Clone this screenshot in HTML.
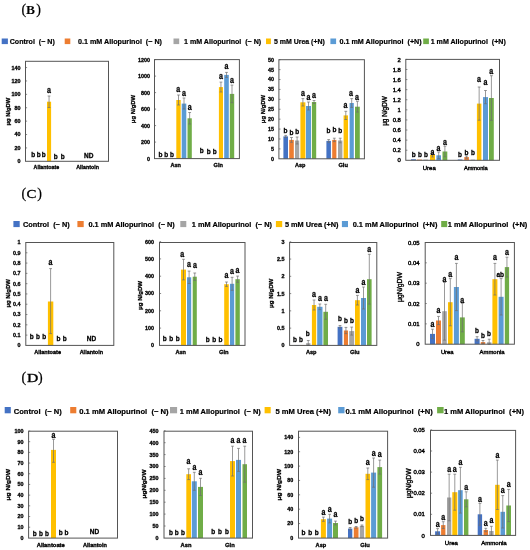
<!DOCTYPE html><html><head><meta charset="utf-8"><style>html,body{margin:0;padding:0;background:#fff;overflow:hidden}svg{display:block;filter:blur(0.3px)}</style></head><body>
<svg width="530" height="550" viewBox="0 0 530 550">
<rect width="530" height="550" fill="#fff"/>
<text x="21.40" y="13.80" font-size="14" stroke="#000" stroke-width="0.2" font-family="Liberation Serif">(</text>
<text x="26.00" y="13.80" font-size="12" font-weight="bold" textLength="9.00" lengthAdjust="spacingAndGlyphs" stroke="#000" stroke-width="0" font-family="Liberation Serif">B</text>
<text x="36.20" y="13.80" font-size="14" stroke="#000" stroke-width="0.2" font-family="Liberation Serif">)</text>
<text x="21.40" y="197.60" font-size="14" stroke="#000" stroke-width="0.2" font-family="Liberation Serif">(</text>
<text x="26.50" y="197.60" font-size="13" font-weight="normal" textLength="9.90" lengthAdjust="spacingAndGlyphs" stroke="#000" stroke-width="0.3" font-family="Liberation Serif">C</text>
<text x="37.20" y="197.60" font-size="14" stroke="#000" stroke-width="0.2" font-family="Liberation Serif">)</text>
<text x="21.40" y="382.40" font-size="14" stroke="#000" stroke-width="0.2" font-family="Liberation Serif">(</text>
<text x="27.00" y="382.40" font-size="12.5" font-weight="normal" textLength="11.30" lengthAdjust="spacingAndGlyphs" stroke="#000" stroke-width="0.35" font-family="Liberation Serif">D</text>
<text x="38.10" y="382.40" font-size="14" stroke="#000" stroke-width="0.2" font-family="Liberation Serif">)</text>
<rect x="1.70" y="38.50" width="6.20" height="5.60" fill="#4472C4"/>
<rect x="64.70" y="38.50" width="5.60" height="5.60" fill="#ED7D31"/>
<rect x="173.50" y="38.50" width="5.70" height="5.60" fill="#A5A5A5"/>
<rect x="266.00" y="38.50" width="4.90" height="5.60" fill="#FFC000"/>
<rect x="330.40" y="38.50" width="5.70" height="5.60" fill="#5B9BD5"/>
<rect x="423.20" y="38.50" width="5.70" height="5.60" fill="#70AD47"/>
<text x="9.70" y="44.40" font-size="7.3" font-weight="bold" font-family="Liberation Sans" stroke="#000" stroke-width="0.2" textLength="45.10" lengthAdjust="spacingAndGlyphs">Control&#160;&#160;(− N)</text>
<text x="78.00" y="44.40" font-size="7.3" font-weight="bold" font-family="Liberation Sans" stroke="#000" stroke-width="0.2" textLength="84.00" lengthAdjust="spacingAndGlyphs">0.1 mM Allopurinol&#160;&#160;(− N)</text>
<text x="184.00" y="44.40" font-size="7.3" font-weight="bold" font-family="Liberation Sans" stroke="#000" stroke-width="0.2" textLength="77.20" lengthAdjust="spacingAndGlyphs">1 mM Allopurinol&#160;&#160;(− N)</text>
<text x="273.90" y="44.40" font-size="7.3" font-weight="bold" font-family="Liberation Sans" stroke="#000" stroke-width="0.2" textLength="51.00" lengthAdjust="spacingAndGlyphs">5 mM Urea (+N)</text>
<text x="339.40" y="44.40" font-size="7.3" font-weight="bold" font-family="Liberation Sans" stroke="#000" stroke-width="0.2" textLength="82.30" lengthAdjust="spacingAndGlyphs">0.1 mM Allopurinol&#160;&#160;(+N)</text>
<text x="430.70" y="44.40" font-size="7.3" font-weight="bold" font-family="Liberation Sans" stroke="#000" stroke-width="0.2" textLength="75.10" lengthAdjust="spacingAndGlyphs">1 mM Allopurinol&#160;&#160;(+N)</text>
<rect x="13.40" y="221.00" width="6.30" height="6.10" fill="#4472C4"/>
<rect x="77.40" y="221.00" width="6.30" height="6.10" fill="#ED7D31"/>
<rect x="180.30" y="221.00" width="6.00" height="6.10" fill="#A5A5A5"/>
<rect x="275.90" y="221.00" width="6.30" height="6.10" fill="#FFC000"/>
<rect x="341.90" y="221.00" width="6.10" height="6.10" fill="#5B9BD5"/>
<rect x="441.20" y="221.00" width="6.00" height="6.10" fill="#70AD47"/>
<text x="22.90" y="227.40" font-size="7.3" font-weight="bold" font-family="Liberation Sans" stroke="#000" stroke-width="0.2" textLength="46.80" lengthAdjust="spacingAndGlyphs">Control&#160;&#160;(− N)</text>
<text x="88.40" y="227.40" font-size="7.3" font-weight="bold" font-family="Liberation Sans" stroke="#000" stroke-width="0.2" textLength="86.40" lengthAdjust="spacingAndGlyphs">0.1 mM Allopurinol&#160;&#160;(− N)</text>
<text x="191.80" y="227.40" font-size="7.3" font-weight="bold" font-family="Liberation Sans" stroke="#000" stroke-width="0.2" textLength="80.20" lengthAdjust="spacingAndGlyphs">1 mM Allopurinol&#160;&#160;(− N)</text>
<text x="284.90" y="227.40" font-size="7.3" font-weight="bold" font-family="Liberation Sans" stroke="#000" stroke-width="0.2" textLength="53.60" lengthAdjust="spacingAndGlyphs">5 mM Urea (+N)</text>
<text x="352.70" y="227.40" font-size="7.3" font-weight="bold" font-family="Liberation Sans" stroke="#000" stroke-width="0.2" textLength="84.70" lengthAdjust="spacingAndGlyphs">0.1 mM Allopurinol&#160;&#160;(+N)</text>
<text x="447.80" y="227.40" font-size="7.3" font-weight="bold" font-family="Liberation Sans" stroke="#000" stroke-width="0.2" textLength="79.50" lengthAdjust="spacingAndGlyphs">1 mM Allopurinol&#160;&#160;(+N)</text>
<rect x="4.70" y="407.00" width="6.10" height="6.30" fill="#4472C4"/>
<rect x="70.20" y="407.00" width="6.10" height="6.30" fill="#ED7D31"/>
<rect x="170.00" y="407.00" width="7.10" height="6.30" fill="#A5A5A5"/>
<rect x="264.60" y="407.00" width="6.10" height="6.30" fill="#FFC000"/>
<rect x="338.20" y="407.00" width="6.30" height="6.30" fill="#5B9BD5"/>
<rect x="437.10" y="407.00" width="6.50" height="6.30" fill="#70AD47"/>
<text x="13.70" y="413.60" font-size="7.3" font-weight="bold" font-family="Liberation Sans" stroke="#000" stroke-width="0.2" textLength="48.10" lengthAdjust="spacingAndGlyphs">Control&#160;&#160;(− N)</text>
<text x="79.20" y="413.60" font-size="7.3" font-weight="bold" font-family="Liberation Sans" stroke="#000" stroke-width="0.2" textLength="89.40" lengthAdjust="spacingAndGlyphs">0.1 mM Allopurinol&#160;&#160;(− N)</text>
<text x="179.80" y="413.60" font-size="7.3" font-weight="bold" font-family="Liberation Sans" stroke="#000" stroke-width="0.2" textLength="81.00" lengthAdjust="spacingAndGlyphs">1 mM Allopurinol&#160;&#160;(− N)</text>
<text x="275.40" y="413.60" font-size="7.3" font-weight="bold" font-family="Liberation Sans" stroke="#000" stroke-width="0.2" textLength="55.60" lengthAdjust="spacingAndGlyphs">5 mM Urea (+N)</text>
<text x="345.50" y="413.60" font-size="7.3" font-weight="bold" font-family="Liberation Sans" stroke="#000" stroke-width="0.2" textLength="87.40" lengthAdjust="spacingAndGlyphs">0.1 mM Allopurinol&#160;&#160;(+N)</text>
<text x="444.00" y="413.60" font-size="7.3" font-weight="bold" font-family="Liberation Sans" stroke="#000" stroke-width="0.2" textLength="80.00" lengthAdjust="spacingAndGlyphs">1 mM Allopurinol&#160;&#160;(+N)</text>
<text x="20.50" y="163.24" font-size="5.4" text-anchor="end" font-weight="bold" font-family="Liberation Sans" stroke="#000" stroke-width="0.3">0</text>
<line x1="25.50" y1="147.91" x2="27.10" y2="147.91" stroke="#595959" stroke-width="0.7"/>
<text x="20.50" y="149.85" font-size="5.4" text-anchor="end" font-weight="bold" font-family="Liberation Sans" stroke="#000" stroke-width="0.3">20</text>
<line x1="25.50" y1="134.52" x2="27.10" y2="134.52" stroke="#595959" stroke-width="0.7"/>
<text x="20.50" y="136.46" font-size="5.4" text-anchor="end" font-weight="bold" font-family="Liberation Sans" stroke="#000" stroke-width="0.3">40</text>
<line x1="25.50" y1="121.13" x2="27.10" y2="121.13" stroke="#595959" stroke-width="0.7"/>
<text x="20.50" y="123.07" font-size="5.4" text-anchor="end" font-weight="bold" font-family="Liberation Sans" stroke="#000" stroke-width="0.3">60</text>
<line x1="25.50" y1="107.74" x2="27.10" y2="107.74" stroke="#595959" stroke-width="0.7"/>
<text x="20.50" y="109.68" font-size="5.4" text-anchor="end" font-weight="bold" font-family="Liberation Sans" stroke="#000" stroke-width="0.3">80</text>
<line x1="25.50" y1="94.35" x2="27.10" y2="94.35" stroke="#595959" stroke-width="0.7"/>
<text x="20.50" y="96.29" font-size="5.4" text-anchor="end" font-weight="bold" font-family="Liberation Sans" stroke="#000" stroke-width="0.3">100</text>
<line x1="25.50" y1="80.96" x2="27.10" y2="80.96" stroke="#595959" stroke-width="0.7"/>
<text x="20.50" y="82.90" font-size="5.4" text-anchor="end" font-weight="bold" font-family="Liberation Sans" stroke="#000" stroke-width="0.3">120</text>
<line x1="25.50" y1="67.57" x2="27.10" y2="67.57" stroke="#595959" stroke-width="0.7"/>
<text x="20.50" y="69.51" font-size="5.4" text-anchor="end" font-weight="bold" font-family="Liberation Sans" stroke="#000" stroke-width="0.3">140</text>
<rect x="47.00" y="101.70" width="4.10" height="59.60" fill="#FFC000"/>
<line x1="49.05" y1="96.00" x2="49.05" y2="107.50" stroke="#6E6E6E" stroke-width="0.7"/>
<line x1="47.65" y1="96.00" x2="50.45" y2="96.00" stroke="#6E6E6E" stroke-width="0.7"/>
<line x1="47.65" y1="107.50" x2="50.45" y2="107.50" stroke="#6E6E6E" stroke-width="0.7"/>
<rect x="25.50" y="61.30" width="83.00" height="100.00" fill="none" stroke="#555" stroke-width="1"/>
<text x="0" y="0" font-size="6.8" text-anchor="middle" font-weight="bold" font-family="Liberation Sans" stroke="#000" stroke-width="0.3" transform="translate(33.20,156.80) scale(0.95,1)">b</text>
<text x="0" y="0" font-size="6.8" text-anchor="middle" font-weight="bold" font-family="Liberation Sans" stroke="#000" stroke-width="0.3" transform="translate(38.60,156.80) scale(0.95,1)">b</text>
<text x="0" y="0" font-size="6.8" text-anchor="middle" font-weight="bold" font-family="Liberation Sans" stroke="#000" stroke-width="0.3" transform="translate(43.80,156.80) scale(0.95,1)">b</text>
<text x="0" y="0" font-size="6.8" text-anchor="middle" font-weight="bold" font-family="Liberation Sans" stroke="#000" stroke-width="0.3" transform="translate(55.70,158.50) scale(0.95,1)">b</text>
<text x="0" y="0" font-size="6.8" text-anchor="middle" font-weight="bold" font-family="Liberation Sans" stroke="#000" stroke-width="0.3" transform="translate(62.80,158.50) scale(0.95,1)">b</text>
<text x="0" y="0" font-size="8.2" text-anchor="middle" font-weight="bold" font-family="Liberation Sans" stroke="#000" stroke-width="0.3" transform="translate(49.00,93.40) scale(0.86,1)">a</text>
<text x="88.80" y="158.00" font-size="6.5" text-anchor="middle" font-weight="bold" font-family="Liberation Sans" stroke="#000" stroke-width="0.3">ND</text>
<text x="46.40" y="168.50" font-size="5.4" text-anchor="middle" font-weight="bold" font-family="Liberation Sans" textLength="25.60" lengthAdjust="spacingAndGlyphs" stroke="#000" stroke-width="0.3">Allantoate</text>
<text x="87.55" y="168.80" font-size="5.4" text-anchor="middle" font-weight="bold" font-family="Liberation Sans" textLength="22.70" lengthAdjust="spacingAndGlyphs" stroke="#000" stroke-width="0.3">Allantoin</text>
<text x="0" y="0" font-size="6.2" text-anchor="middle" font-weight="bold" font-family="Liberation Sans" stroke="#000" stroke-width="0.3" textLength="27.80" lengthAdjust="spacingAndGlyphs" transform="translate(9.73,111.60) rotate(-90)">μg N/gDW</text>
<text x="150.00" y="160.54" font-size="5.4" text-anchor="end" font-weight="bold" font-family="Liberation Sans" stroke="#000" stroke-width="0.3">0</text>
<line x1="154.50" y1="142.10" x2="156.10" y2="142.10" stroke="#595959" stroke-width="0.7"/>
<text x="150.00" y="144.04" font-size="5.4" text-anchor="end" font-weight="bold" font-family="Liberation Sans" stroke="#000" stroke-width="0.3">200</text>
<line x1="154.50" y1="125.60" x2="156.10" y2="125.60" stroke="#595959" stroke-width="0.7"/>
<text x="150.00" y="127.54" font-size="5.4" text-anchor="end" font-weight="bold" font-family="Liberation Sans" stroke="#000" stroke-width="0.3">400</text>
<line x1="154.50" y1="109.10" x2="156.10" y2="109.10" stroke="#595959" stroke-width="0.7"/>
<text x="150.00" y="111.04" font-size="5.4" text-anchor="end" font-weight="bold" font-family="Liberation Sans" stroke="#000" stroke-width="0.3">600</text>
<line x1="154.50" y1="92.60" x2="156.10" y2="92.60" stroke="#595959" stroke-width="0.7"/>
<text x="150.00" y="94.54" font-size="5.4" text-anchor="end" font-weight="bold" font-family="Liberation Sans" stroke="#000" stroke-width="0.3">800</text>
<line x1="154.50" y1="76.10" x2="156.10" y2="76.10" stroke="#595959" stroke-width="0.7"/>
<text x="150.00" y="78.04" font-size="5.4" text-anchor="end" font-weight="bold" font-family="Liberation Sans" stroke="#000" stroke-width="0.3">1000</text>
<line x1="154.50" y1="59.60" x2="156.10" y2="59.60" stroke="#595959" stroke-width="0.7"/>
<text x="150.00" y="61.54" font-size="5.4" text-anchor="end" font-weight="bold" font-family="Liberation Sans" stroke="#000" stroke-width="0.3">1200</text>
<rect x="176.30" y="100.00" width="4.40" height="58.60" fill="#FFC000"/>
<rect x="181.70" y="103.60" width="4.60" height="55.00" fill="#5B9BD5"/>
<rect x="187.50" y="118.30" width="4.30" height="40.30" fill="#70AD47"/>
<rect x="218.90" y="87.10" width="4.10" height="71.50" fill="#FFC000"/>
<rect x="224.20" y="74.90" width="4.60" height="83.70" fill="#5B9BD5"/>
<rect x="229.80" y="93.90" width="4.40" height="64.70" fill="#70AD47"/>
<line x1="178.50" y1="95.00" x2="178.50" y2="105.00" stroke="#6E6E6E" stroke-width="0.7"/>
<line x1="177.10" y1="95.00" x2="179.90" y2="95.00" stroke="#6E6E6E" stroke-width="0.7"/>
<line x1="177.10" y1="105.00" x2="179.90" y2="105.00" stroke="#6E6E6E" stroke-width="0.7"/>
<line x1="184.00" y1="98.00" x2="184.00" y2="109.00" stroke="#6E6E6E" stroke-width="0.7"/>
<line x1="182.60" y1="98.00" x2="185.40" y2="98.00" stroke="#6E6E6E" stroke-width="0.7"/>
<line x1="182.60" y1="109.00" x2="185.40" y2="109.00" stroke="#6E6E6E" stroke-width="0.7"/>
<line x1="189.65" y1="112.50" x2="189.65" y2="124.00" stroke="#6E6E6E" stroke-width="0.7"/>
<line x1="188.25" y1="112.50" x2="191.05" y2="112.50" stroke="#6E6E6E" stroke-width="0.7"/>
<line x1="188.25" y1="124.00" x2="191.05" y2="124.00" stroke="#6E6E6E" stroke-width="0.7"/>
<line x1="220.95" y1="82.10" x2="220.95" y2="92.00" stroke="#6E6E6E" stroke-width="0.7"/>
<line x1="219.55" y1="82.10" x2="222.35" y2="82.10" stroke="#6E6E6E" stroke-width="0.7"/>
<line x1="219.55" y1="92.00" x2="222.35" y2="92.00" stroke="#6E6E6E" stroke-width="0.7"/>
<line x1="226.50" y1="72.40" x2="226.50" y2="77.40" stroke="#6E6E6E" stroke-width="0.7"/>
<line x1="225.10" y1="72.40" x2="227.90" y2="72.40" stroke="#6E6E6E" stroke-width="0.7"/>
<line x1="225.10" y1="77.40" x2="227.90" y2="77.40" stroke="#6E6E6E" stroke-width="0.7"/>
<line x1="232.00" y1="85.10" x2="232.00" y2="102.70" stroke="#6E6E6E" stroke-width="0.7"/>
<line x1="230.60" y1="85.10" x2="233.40" y2="85.10" stroke="#6E6E6E" stroke-width="0.7"/>
<line x1="230.60" y1="102.70" x2="233.40" y2="102.70" stroke="#6E6E6E" stroke-width="0.7"/>
<rect x="154.50" y="59.60" width="84.90" height="99.00" fill="none" stroke="#555" stroke-width="1"/>
<text x="0" y="0" font-size="6.8" text-anchor="middle" font-weight="bold" font-family="Liberation Sans" stroke="#000" stroke-width="0.3" transform="translate(160.50,156.80) scale(0.95,1)">b</text>
<text x="0" y="0" font-size="6.8" text-anchor="middle" font-weight="bold" font-family="Liberation Sans" stroke="#000" stroke-width="0.3" transform="translate(166.10,156.80) scale(0.95,1)">b</text>
<text x="0" y="0" font-size="6.8" text-anchor="middle" font-weight="bold" font-family="Liberation Sans" stroke="#000" stroke-width="0.3" transform="translate(172.00,156.80) scale(0.95,1)">b</text>
<text x="0" y="0" font-size="8.2" text-anchor="middle" font-weight="bold" font-family="Liberation Sans" stroke="#000" stroke-width="0.3" transform="translate(178.30,91.50) scale(0.86,1)">a</text>
<text x="0" y="0" font-size="8.2" text-anchor="middle" font-weight="bold" font-family="Liberation Sans" stroke="#000" stroke-width="0.3" transform="translate(183.90,95.90) scale(0.86,1)">a</text>
<text x="0" y="0" font-size="8.2" text-anchor="middle" font-weight="bold" font-family="Liberation Sans" stroke="#000" stroke-width="0.3" transform="translate(189.60,109.60) scale(0.86,1)">a</text>
<text x="0" y="0" font-size="6.8" text-anchor="middle" font-weight="bold" font-family="Liberation Sans" stroke="#000" stroke-width="0.3" transform="translate(201.80,153.10) scale(0.95,1)">b</text>
<text x="0" y="0" font-size="6.8" text-anchor="middle" font-weight="bold" font-family="Liberation Sans" stroke="#000" stroke-width="0.3" transform="translate(208.60,154.30) scale(0.95,1)">b</text>
<text x="0" y="0" font-size="6.8" text-anchor="middle" font-weight="bold" font-family="Liberation Sans" stroke="#000" stroke-width="0.3" transform="translate(214.70,154.30) scale(0.95,1)">b</text>
<text x="0" y="0" font-size="8.2" text-anchor="middle" font-weight="bold" font-family="Liberation Sans" stroke="#000" stroke-width="0.3" transform="translate(221.00,79.10) scale(0.86,1)">a</text>
<text x="0" y="0" font-size="8.2" text-anchor="middle" font-weight="bold" font-family="Liberation Sans" stroke="#000" stroke-width="0.3" transform="translate(226.40,69.10) scale(0.86,1)">a</text>
<text x="0" y="0" font-size="8.2" text-anchor="middle" font-weight="bold" font-family="Liberation Sans" stroke="#000" stroke-width="0.3" transform="translate(232.00,83.40) scale(0.86,1)">a</text>
<text x="175.75" y="167.30" font-size="5.4" text-anchor="middle" font-weight="bold" font-family="Liberation Sans" textLength="10.50" lengthAdjust="spacingAndGlyphs" stroke="#000" stroke-width="0.3">Asn</text>
<text x="218.30" y="167.30" font-size="5.4" text-anchor="middle" font-weight="bold" font-family="Liberation Sans" textLength="9.40" lengthAdjust="spacingAndGlyphs" stroke="#000" stroke-width="0.3">Gln</text>
<text x="0" y="0" font-size="6.2" text-anchor="middle" font-weight="bold" font-family="Liberation Sans" stroke="#000" stroke-width="0.3" textLength="28.30" lengthAdjust="spacingAndGlyphs" transform="translate(134.73,109.00) rotate(-90)">μg N/gDW</text>
<text x="273.90" y="160.74" font-size="5.4" text-anchor="end" font-weight="bold" font-family="Liberation Sans" stroke="#000" stroke-width="0.3">0</text>
<line x1="278.90" y1="148.89" x2="280.50" y2="148.89" stroke="#595959" stroke-width="0.7"/>
<text x="273.90" y="150.83" font-size="5.4" text-anchor="end" font-weight="bold" font-family="Liberation Sans" stroke="#000" stroke-width="0.3">5</text>
<line x1="278.90" y1="138.98" x2="280.50" y2="138.98" stroke="#595959" stroke-width="0.7"/>
<text x="273.90" y="140.92" font-size="5.4" text-anchor="end" font-weight="bold" font-family="Liberation Sans" stroke="#000" stroke-width="0.3">10</text>
<line x1="278.90" y1="129.07" x2="280.50" y2="129.07" stroke="#595959" stroke-width="0.7"/>
<text x="273.90" y="131.01" font-size="5.4" text-anchor="end" font-weight="bold" font-family="Liberation Sans" stroke="#000" stroke-width="0.3">15</text>
<line x1="278.90" y1="119.16" x2="280.50" y2="119.16" stroke="#595959" stroke-width="0.7"/>
<text x="273.90" y="121.10" font-size="5.4" text-anchor="end" font-weight="bold" font-family="Liberation Sans" stroke="#000" stroke-width="0.3">20</text>
<line x1="278.90" y1="109.25" x2="280.50" y2="109.25" stroke="#595959" stroke-width="0.7"/>
<text x="273.90" y="111.19" font-size="5.4" text-anchor="end" font-weight="bold" font-family="Liberation Sans" stroke="#000" stroke-width="0.3">25</text>
<line x1="278.90" y1="99.34" x2="280.50" y2="99.34" stroke="#595959" stroke-width="0.7"/>
<text x="273.90" y="101.28" font-size="5.4" text-anchor="end" font-weight="bold" font-family="Liberation Sans" stroke="#000" stroke-width="0.3">30</text>
<line x1="278.90" y1="89.43" x2="280.50" y2="89.43" stroke="#595959" stroke-width="0.7"/>
<text x="273.90" y="91.37" font-size="5.4" text-anchor="end" font-weight="bold" font-family="Liberation Sans" stroke="#000" stroke-width="0.3">35</text>
<line x1="278.90" y1="79.52" x2="280.50" y2="79.52" stroke="#595959" stroke-width="0.7"/>
<text x="273.90" y="81.46" font-size="5.4" text-anchor="end" font-weight="bold" font-family="Liberation Sans" stroke="#000" stroke-width="0.3">40</text>
<line x1="278.90" y1="69.61" x2="280.50" y2="69.61" stroke="#595959" stroke-width="0.7"/>
<text x="273.90" y="71.55" font-size="5.4" text-anchor="end" font-weight="bold" font-family="Liberation Sans" stroke="#000" stroke-width="0.3">45</text>
<line x1="278.90" y1="59.70" x2="280.50" y2="59.70" stroke="#595959" stroke-width="0.7"/>
<text x="273.90" y="61.64" font-size="5.4" text-anchor="end" font-weight="bold" font-family="Liberation Sans" stroke="#000" stroke-width="0.3">50</text>
<rect x="283.40" y="136.40" width="4.60" height="22.40" fill="#4472C4"/>
<rect x="289.20" y="139.90" width="4.60" height="18.90" fill="#ED7D31"/>
<rect x="295.00" y="140.50" width="4.20" height="18.30" fill="#A5A5A5"/>
<rect x="300.40" y="102.30" width="5.00" height="56.50" fill="#FFC000"/>
<rect x="306.00" y="106.00" width="5.00" height="52.80" fill="#5B9BD5"/>
<rect x="311.90" y="102.00" width="4.30" height="56.80" fill="#70AD47"/>
<rect x="326.40" y="140.90" width="4.50" height="17.90" fill="#4472C4"/>
<rect x="332.20" y="139.90" width="4.20" height="18.90" fill="#ED7D31"/>
<rect x="338.00" y="140.50" width="4.40" height="18.30" fill="#A5A5A5"/>
<rect x="343.60" y="115.40" width="4.40" height="43.40" fill="#FFC000"/>
<rect x="349.60" y="103.00" width="4.20" height="55.80" fill="#5B9BD5"/>
<rect x="355.00" y="106.70" width="4.80" height="52.10" fill="#70AD47"/>
<line x1="285.70" y1="135.40" x2="285.70" y2="137.40" stroke="#6E6E6E" stroke-width="0.7"/>
<line x1="284.30" y1="135.40" x2="287.10" y2="135.40" stroke="#6E6E6E" stroke-width="0.7"/>
<line x1="284.30" y1="137.40" x2="287.10" y2="137.40" stroke="#6E6E6E" stroke-width="0.7"/>
<line x1="291.50" y1="137.50" x2="291.50" y2="142.30" stroke="#6E6E6E" stroke-width="0.7"/>
<line x1="290.10" y1="137.50" x2="292.90" y2="137.50" stroke="#6E6E6E" stroke-width="0.7"/>
<line x1="290.10" y1="142.30" x2="292.90" y2="142.30" stroke="#6E6E6E" stroke-width="0.7"/>
<line x1="297.10" y1="137.00" x2="297.10" y2="144.00" stroke="#6E6E6E" stroke-width="0.7"/>
<line x1="295.70" y1="137.00" x2="298.50" y2="137.00" stroke="#6E6E6E" stroke-width="0.7"/>
<line x1="295.70" y1="144.00" x2="298.50" y2="144.00" stroke="#6E6E6E" stroke-width="0.7"/>
<line x1="302.90" y1="98.60" x2="302.90" y2="106.00" stroke="#6E6E6E" stroke-width="0.7"/>
<line x1="301.50" y1="98.60" x2="304.30" y2="98.60" stroke="#6E6E6E" stroke-width="0.7"/>
<line x1="301.50" y1="106.00" x2="304.30" y2="106.00" stroke="#6E6E6E" stroke-width="0.7"/>
<line x1="308.50" y1="102.00" x2="308.50" y2="110.00" stroke="#6E6E6E" stroke-width="0.7"/>
<line x1="307.10" y1="102.00" x2="309.90" y2="102.00" stroke="#6E6E6E" stroke-width="0.7"/>
<line x1="307.10" y1="110.00" x2="309.90" y2="110.00" stroke="#6E6E6E" stroke-width="0.7"/>
<line x1="314.05" y1="100.50" x2="314.05" y2="103.50" stroke="#6E6E6E" stroke-width="0.7"/>
<line x1="312.65" y1="100.50" x2="315.45" y2="100.50" stroke="#6E6E6E" stroke-width="0.7"/>
<line x1="312.65" y1="103.50" x2="315.45" y2="103.50" stroke="#6E6E6E" stroke-width="0.7"/>
<line x1="328.65" y1="139.60" x2="328.65" y2="142.20" stroke="#6E6E6E" stroke-width="0.7"/>
<line x1="327.25" y1="139.60" x2="330.05" y2="139.60" stroke="#6E6E6E" stroke-width="0.7"/>
<line x1="327.25" y1="142.20" x2="330.05" y2="142.20" stroke="#6E6E6E" stroke-width="0.7"/>
<line x1="334.30" y1="138.20" x2="334.30" y2="141.60" stroke="#6E6E6E" stroke-width="0.7"/>
<line x1="332.90" y1="138.20" x2="335.70" y2="138.20" stroke="#6E6E6E" stroke-width="0.7"/>
<line x1="332.90" y1="141.60" x2="335.70" y2="141.60" stroke="#6E6E6E" stroke-width="0.7"/>
<line x1="340.20" y1="138.20" x2="340.20" y2="142.80" stroke="#6E6E6E" stroke-width="0.7"/>
<line x1="338.80" y1="138.20" x2="341.60" y2="138.20" stroke="#6E6E6E" stroke-width="0.7"/>
<line x1="338.80" y1="142.80" x2="341.60" y2="142.80" stroke="#6E6E6E" stroke-width="0.7"/>
<line x1="345.80" y1="111.30" x2="345.80" y2="119.50" stroke="#6E6E6E" stroke-width="0.7"/>
<line x1="344.40" y1="111.30" x2="347.20" y2="111.30" stroke="#6E6E6E" stroke-width="0.7"/>
<line x1="344.40" y1="119.50" x2="347.20" y2="119.50" stroke="#6E6E6E" stroke-width="0.7"/>
<line x1="351.70" y1="98.60" x2="351.70" y2="107.40" stroke="#6E6E6E" stroke-width="0.7"/>
<line x1="350.30" y1="98.60" x2="353.10" y2="98.60" stroke="#6E6E6E" stroke-width="0.7"/>
<line x1="350.30" y1="107.40" x2="353.10" y2="107.40" stroke="#6E6E6E" stroke-width="0.7"/>
<line x1="357.40" y1="101.30" x2="357.40" y2="112.10" stroke="#6E6E6E" stroke-width="0.7"/>
<line x1="356.00" y1="101.30" x2="358.80" y2="101.30" stroke="#6E6E6E" stroke-width="0.7"/>
<line x1="356.00" y1="112.10" x2="358.80" y2="112.10" stroke="#6E6E6E" stroke-width="0.7"/>
<rect x="278.90" y="59.70" width="85.50" height="99.10" fill="none" stroke="#555" stroke-width="1"/>
<text x="0" y="0" font-size="6.8" text-anchor="middle" font-weight="bold" font-family="Liberation Sans" stroke="#000" stroke-width="0.3" transform="translate(285.50,132.50) scale(0.95,1)">b</text>
<text x="0" y="0" font-size="6.8" text-anchor="middle" font-weight="bold" font-family="Liberation Sans" stroke="#000" stroke-width="0.3" transform="translate(291.50,134.50) scale(0.95,1)">b</text>
<text x="0" y="0" font-size="6.8" text-anchor="middle" font-weight="bold" font-family="Liberation Sans" stroke="#000" stroke-width="0.3" transform="translate(297.30,134.20) scale(0.95,1)">b</text>
<text x="0" y="0" font-size="8.2" text-anchor="middle" font-weight="bold" font-family="Liberation Sans" stroke="#000" stroke-width="0.3" transform="translate(303.00,95.90) scale(0.86,1)">a</text>
<text x="0" y="0" font-size="8.2" text-anchor="middle" font-weight="bold" font-family="Liberation Sans" stroke="#000" stroke-width="0.3" transform="translate(308.50,99.60) scale(0.86,1)">a</text>
<text x="0" y="0" font-size="8.2" text-anchor="middle" font-weight="bold" font-family="Liberation Sans" stroke="#000" stroke-width="0.3" transform="translate(314.00,97.70) scale(0.86,1)">a</text>
<text x="0" y="0" font-size="6.8" text-anchor="middle" font-weight="bold" font-family="Liberation Sans" stroke="#000" stroke-width="0.3" transform="translate(328.50,133.20) scale(0.95,1)">b</text>
<text x="0" y="0" font-size="6.8" text-anchor="middle" font-weight="bold" font-family="Liberation Sans" stroke="#000" stroke-width="0.3" transform="translate(334.50,131.90) scale(0.95,1)">b</text>
<text x="0" y="0" font-size="6.8" text-anchor="middle" font-weight="bold" font-family="Liberation Sans" stroke="#000" stroke-width="0.3" transform="translate(340.30,133.20) scale(0.95,1)">b</text>
<text x="0" y="0" font-size="8.2" text-anchor="middle" font-weight="bold" font-family="Liberation Sans" stroke="#000" stroke-width="0.3" transform="translate(345.50,108.40) scale(0.86,1)">a</text>
<text x="0" y="0" font-size="8.2" text-anchor="middle" font-weight="bold" font-family="Liberation Sans" stroke="#000" stroke-width="0.3" transform="translate(351.00,95.90) scale(0.86,1)">a</text>
<text x="0" y="0" font-size="8.2" text-anchor="middle" font-weight="bold" font-family="Liberation Sans" stroke="#000" stroke-width="0.3" transform="translate(357.00,99.60) scale(0.86,1)">a</text>
<text x="300.20" y="167.30" font-size="5.4" text-anchor="middle" font-weight="bold" font-family="Liberation Sans" textLength="10.40" lengthAdjust="spacingAndGlyphs" stroke="#000" stroke-width="0.3">Asp</text>
<text x="343.20" y="167.30" font-size="5.4" text-anchor="middle" font-weight="bold" font-family="Liberation Sans" textLength="9.60" lengthAdjust="spacingAndGlyphs" stroke="#000" stroke-width="0.3">Glu</text>
<text x="0" y="0" font-size="6.2" text-anchor="middle" font-weight="bold" font-family="Liberation Sans" stroke="#000" stroke-width="0.3" textLength="28.30" lengthAdjust="spacingAndGlyphs" transform="translate(265.43,109.00) rotate(-90)">μg N/gDW</text>
<text x="400.90" y="162.42" font-size="5.9" text-anchor="end" font-weight="normal" font-family="Liberation Sans" stroke="#000" stroke-width="0.4">0</text>
<line x1="405.80" y1="150.21" x2="407.40" y2="150.21" stroke="#595959" stroke-width="0.7"/>
<text x="400.90" y="152.33" font-size="5.9" text-anchor="end" font-weight="normal" font-family="Liberation Sans" stroke="#000" stroke-width="0.4">0.2</text>
<line x1="405.80" y1="140.12" x2="407.40" y2="140.12" stroke="#595959" stroke-width="0.7"/>
<text x="400.90" y="142.24" font-size="5.9" text-anchor="end" font-weight="normal" font-family="Liberation Sans" stroke="#000" stroke-width="0.4">0.4</text>
<line x1="405.80" y1="130.03" x2="407.40" y2="130.03" stroke="#595959" stroke-width="0.7"/>
<text x="400.90" y="132.15" font-size="5.9" text-anchor="end" font-weight="normal" font-family="Liberation Sans" stroke="#000" stroke-width="0.4">0.6</text>
<line x1="405.80" y1="119.94" x2="407.40" y2="119.94" stroke="#595959" stroke-width="0.7"/>
<text x="400.90" y="122.06" font-size="5.9" text-anchor="end" font-weight="normal" font-family="Liberation Sans" stroke="#000" stroke-width="0.4">0.8</text>
<line x1="405.80" y1="109.85" x2="407.40" y2="109.85" stroke="#595959" stroke-width="0.7"/>
<text x="400.90" y="111.97" font-size="5.9" text-anchor="end" font-weight="normal" font-family="Liberation Sans" stroke="#000" stroke-width="0.4">1</text>
<line x1="405.80" y1="99.76" x2="407.40" y2="99.76" stroke="#595959" stroke-width="0.7"/>
<text x="400.90" y="101.88" font-size="5.9" text-anchor="end" font-weight="normal" font-family="Liberation Sans" stroke="#000" stroke-width="0.4">1.2</text>
<line x1="405.80" y1="89.67" x2="407.40" y2="89.67" stroke="#595959" stroke-width="0.7"/>
<text x="400.90" y="91.79" font-size="5.9" text-anchor="end" font-weight="normal" font-family="Liberation Sans" stroke="#000" stroke-width="0.4">1.4</text>
<line x1="405.80" y1="79.58" x2="407.40" y2="79.58" stroke="#595959" stroke-width="0.7"/>
<text x="400.90" y="81.70" font-size="5.9" text-anchor="end" font-weight="normal" font-family="Liberation Sans" stroke="#000" stroke-width="0.4">1.6</text>
<line x1="405.80" y1="69.49" x2="407.40" y2="69.49" stroke="#595959" stroke-width="0.7"/>
<text x="400.90" y="71.61" font-size="5.9" text-anchor="end" font-weight="normal" font-family="Liberation Sans" stroke="#000" stroke-width="0.4">1.8</text>
<line x1="405.80" y1="59.40" x2="407.40" y2="59.40" stroke="#595959" stroke-width="0.7"/>
<text x="400.90" y="61.52" font-size="5.9" text-anchor="end" font-weight="normal" font-family="Liberation Sans" stroke="#000" stroke-width="0.4">2</text>
<rect x="411.00" y="159.30" width="5.00" height="1.00" fill="#4472C4"/>
<rect x="417.00" y="159.60" width="5.00" height="0.70" fill="#ED7D31"/>
<rect x="423.50" y="159.60" width="4.50" height="0.70" fill="#A5A5A5"/>
<rect x="430.00" y="155.00" width="5.00" height="5.30" fill="#FFC000"/>
<rect x="436.40" y="155.30" width="4.60" height="5.00" fill="#5B9BD5"/>
<rect x="442.50" y="151.50" width="4.80" height="8.80" fill="#70AD47"/>
<rect x="457.80" y="159.50" width="4.60" height="0.80" fill="#4472C4"/>
<rect x="464.30" y="157.10" width="4.60" height="3.20" fill="#ED7D31"/>
<rect x="470.80" y="159.60" width="4.10" height="0.70" fill="#A5A5A5"/>
<rect x="476.90" y="103.60" width="4.50" height="56.70" fill="#FFC000"/>
<rect x="483.00" y="97.10" width="5.00" height="63.20" fill="#5B9BD5"/>
<rect x="489.00" y="98.00" width="4.80" height="62.30" fill="#70AD47"/>
<line x1="432.50" y1="153.00" x2="432.50" y2="157.00" stroke="#6E6E6E" stroke-width="0.7"/>
<line x1="431.10" y1="153.00" x2="433.90" y2="153.00" stroke="#6E6E6E" stroke-width="0.7"/>
<line x1="431.10" y1="157.00" x2="433.90" y2="157.00" stroke="#6E6E6E" stroke-width="0.7"/>
<line x1="438.70" y1="152.00" x2="438.70" y2="158.60" stroke="#6E6E6E" stroke-width="0.7"/>
<line x1="437.30" y1="152.00" x2="440.10" y2="152.00" stroke="#6E6E6E" stroke-width="0.7"/>
<line x1="437.30" y1="158.60" x2="440.10" y2="158.60" stroke="#6E6E6E" stroke-width="0.7"/>
<line x1="444.90" y1="146.20" x2="444.90" y2="156.80" stroke="#6E6E6E" stroke-width="0.7"/>
<line x1="443.50" y1="146.20" x2="446.30" y2="146.20" stroke="#6E6E6E" stroke-width="0.7"/>
<line x1="443.50" y1="156.80" x2="446.30" y2="156.80" stroke="#6E6E6E" stroke-width="0.7"/>
<line x1="466.60" y1="156.00" x2="466.60" y2="158.20" stroke="#6E6E6E" stroke-width="0.7"/>
<line x1="465.20" y1="156.00" x2="468.00" y2="156.00" stroke="#6E6E6E" stroke-width="0.7"/>
<line x1="465.20" y1="158.20" x2="468.00" y2="158.20" stroke="#6E6E6E" stroke-width="0.7"/>
<line x1="479.15" y1="87.00" x2="479.15" y2="120.20" stroke="#6E6E6E" stroke-width="0.7"/>
<line x1="477.75" y1="87.00" x2="480.55" y2="87.00" stroke="#6E6E6E" stroke-width="0.7"/>
<line x1="477.75" y1="120.20" x2="480.55" y2="120.20" stroke="#6E6E6E" stroke-width="0.7"/>
<line x1="485.50" y1="90.50" x2="485.50" y2="103.70" stroke="#6E6E6E" stroke-width="0.7"/>
<line x1="484.10" y1="90.50" x2="486.90" y2="90.50" stroke="#6E6E6E" stroke-width="0.7"/>
<line x1="484.10" y1="103.70" x2="486.90" y2="103.70" stroke="#6E6E6E" stroke-width="0.7"/>
<line x1="491.40" y1="75.70" x2="491.40" y2="120.30" stroke="#6E6E6E" stroke-width="0.7"/>
<line x1="490.00" y1="75.70" x2="492.80" y2="75.70" stroke="#6E6E6E" stroke-width="0.7"/>
<line x1="490.00" y1="120.30" x2="492.80" y2="120.30" stroke="#6E6E6E" stroke-width="0.7"/>
<rect x="405.80" y="59.40" width="93.70" height="100.90" fill="none" stroke="#555" stroke-width="1"/>
<text x="0" y="0" font-size="6.8" text-anchor="middle" font-weight="bold" font-family="Liberation Sans" stroke="#000" stroke-width="0.3" transform="translate(413.60,156.60) scale(0.95,1)">b</text>
<text x="0" y="0" font-size="6.8" text-anchor="middle" font-weight="bold" font-family="Liberation Sans" stroke="#000" stroke-width="0.3" transform="translate(420.00,157.00) scale(0.95,1)">b</text>
<text x="0" y="0" font-size="6.8" text-anchor="middle" font-weight="bold" font-family="Liberation Sans" stroke="#000" stroke-width="0.3" transform="translate(426.00,157.00) scale(0.95,1)">b</text>
<text x="0" y="0" font-size="8.2" text-anchor="middle" font-weight="bold" font-family="Liberation Sans" stroke="#000" stroke-width="0.3" transform="translate(432.50,154.90) scale(0.86,1)">a</text>
<text x="0" y="0" font-size="8.2" text-anchor="middle" font-weight="bold" font-family="Liberation Sans" stroke="#000" stroke-width="0.3" transform="translate(438.50,151.20) scale(0.86,1)">a</text>
<text x="0" y="0" font-size="8.2" text-anchor="middle" font-weight="bold" font-family="Liberation Sans" stroke="#000" stroke-width="0.3" transform="translate(445.00,145.40) scale(0.86,1)">a</text>
<text x="0" y="0" font-size="6.8" text-anchor="middle" font-weight="bold" font-family="Liberation Sans" stroke="#000" stroke-width="0.3" transform="translate(460.00,157.00) scale(0.95,1)">b</text>
<text x="0" y="0" font-size="6.8" text-anchor="middle" font-weight="bold" font-family="Liberation Sans" stroke="#000" stroke-width="0.3" transform="translate(466.50,154.80) scale(0.95,1)">b</text>
<text x="0" y="0" font-size="6.8" text-anchor="middle" font-weight="bold" font-family="Liberation Sans" stroke="#000" stroke-width="0.3" transform="translate(473.00,154.80) scale(0.95,1)">b</text>
<text x="0" y="0" font-size="8.2" text-anchor="middle" font-weight="bold" font-family="Liberation Sans" stroke="#000" stroke-width="0.3" transform="translate(479.00,82.40) scale(0.86,1)">a</text>
<text x="0" y="0" font-size="8.2" text-anchor="middle" font-weight="bold" font-family="Liberation Sans" stroke="#000" stroke-width="0.3" transform="translate(485.50,85.40) scale(0.86,1)">a</text>
<text x="0" y="0" font-size="8.2" text-anchor="middle" font-weight="bold" font-family="Liberation Sans" stroke="#000" stroke-width="0.3" transform="translate(491.30,73.80) scale(0.86,1)">a</text>
<text x="429.25" y="170.40" font-size="6" text-anchor="middle" font-weight="normal" font-family="Liberation Sans" textLength="12.90" lengthAdjust="spacingAndGlyphs" stroke="#000" stroke-width="0.4">Urea</text>
<text x="475.80" y="170.40" font-size="6" text-anchor="middle" font-weight="normal" font-family="Liberation Sans" textLength="23.80" lengthAdjust="spacingAndGlyphs" stroke="#000" stroke-width="0.4">Ammonia</text>
<text x="0" y="0" font-size="6.4" text-anchor="middle" font-weight="normal" font-family="Liberation Sans" stroke="#000" stroke-width="0.35" textLength="29.70" lengthAdjust="spacingAndGlyphs" transform="translate(387.10,111.00) rotate(-90)">μg N/gDW</text>
<text x="20.50" y="347.34" font-size="5.4" text-anchor="end" font-weight="bold" font-family="Liberation Sans" stroke="#000" stroke-width="0.3">0</text>
<line x1="25.80" y1="335.11" x2="27.40" y2="335.11" stroke="#595959" stroke-width="0.7"/>
<text x="20.50" y="337.05" font-size="5.4" text-anchor="end" font-weight="bold" font-family="Liberation Sans" stroke="#000" stroke-width="0.3">0.1</text>
<line x1="25.80" y1="324.82" x2="27.40" y2="324.82" stroke="#595959" stroke-width="0.7"/>
<text x="20.50" y="326.76" font-size="5.4" text-anchor="end" font-weight="bold" font-family="Liberation Sans" stroke="#000" stroke-width="0.3">0.2</text>
<line x1="25.80" y1="314.53" x2="27.40" y2="314.53" stroke="#595959" stroke-width="0.7"/>
<text x="20.50" y="316.47" font-size="5.4" text-anchor="end" font-weight="bold" font-family="Liberation Sans" stroke="#000" stroke-width="0.3">0.3</text>
<line x1="25.80" y1="304.24" x2="27.40" y2="304.24" stroke="#595959" stroke-width="0.7"/>
<text x="20.50" y="306.18" font-size="5.4" text-anchor="end" font-weight="bold" font-family="Liberation Sans" stroke="#000" stroke-width="0.3">0.4</text>
<line x1="25.80" y1="293.95" x2="27.40" y2="293.95" stroke="#595959" stroke-width="0.7"/>
<text x="20.50" y="295.89" font-size="5.4" text-anchor="end" font-weight="bold" font-family="Liberation Sans" stroke="#000" stroke-width="0.3">0.5</text>
<line x1="25.80" y1="283.66" x2="27.40" y2="283.66" stroke="#595959" stroke-width="0.7"/>
<text x="20.50" y="285.60" font-size="5.4" text-anchor="end" font-weight="bold" font-family="Liberation Sans" stroke="#000" stroke-width="0.3">0.6</text>
<line x1="25.80" y1="273.37" x2="27.40" y2="273.37" stroke="#595959" stroke-width="0.7"/>
<text x="20.50" y="275.31" font-size="5.4" text-anchor="end" font-weight="bold" font-family="Liberation Sans" stroke="#000" stroke-width="0.3">0.7</text>
<line x1="25.80" y1="263.08" x2="27.40" y2="263.08" stroke="#595959" stroke-width="0.7"/>
<text x="20.50" y="265.02" font-size="5.4" text-anchor="end" font-weight="bold" font-family="Liberation Sans" stroke="#000" stroke-width="0.3">0.8</text>
<line x1="25.80" y1="252.79" x2="27.40" y2="252.79" stroke="#595959" stroke-width="0.7"/>
<text x="20.50" y="254.73" font-size="5.4" text-anchor="end" font-weight="bold" font-family="Liberation Sans" stroke="#000" stroke-width="0.3">0.9</text>
<line x1="25.80" y1="242.50" x2="27.40" y2="242.50" stroke="#595959" stroke-width="0.7"/>
<text x="20.50" y="244.44" font-size="5.4" text-anchor="end" font-weight="bold" font-family="Liberation Sans" stroke="#000" stroke-width="0.3">1</text>
<rect x="47.90" y="301.50" width="5.40" height="43.90" fill="#FFC000"/>
<line x1="50.60" y1="268.60" x2="50.60" y2="333.60" stroke="#6E6E6E" stroke-width="0.7"/>
<line x1="49.20" y1="268.60" x2="52.00" y2="268.60" stroke="#6E6E6E" stroke-width="0.7"/>
<line x1="49.20" y1="333.60" x2="52.00" y2="333.60" stroke="#6E6E6E" stroke-width="0.7"/>
<rect x="25.80" y="242.50" width="88.00" height="102.90" fill="none" stroke="#555" stroke-width="1"/>
<text x="0" y="0" font-size="6.8" text-anchor="middle" font-weight="bold" font-family="Liberation Sans" stroke="#000" stroke-width="0.3" transform="translate(31.60,338.70) scale(0.95,1)">b</text>
<text x="0" y="0" font-size="6.8" text-anchor="middle" font-weight="bold" font-family="Liberation Sans" stroke="#000" stroke-width="0.3" transform="translate(38.00,338.70) scale(0.95,1)">b</text>
<text x="0" y="0" font-size="6.8" text-anchor="middle" font-weight="bold" font-family="Liberation Sans" stroke="#000" stroke-width="0.3" transform="translate(44.30,338.70) scale(0.95,1)">b</text>
<text x="0" y="0" font-size="6.8" text-anchor="middle" font-weight="bold" font-family="Liberation Sans" stroke="#000" stroke-width="0.3" transform="translate(58.50,340.50) scale(0.95,1)">b</text>
<text x="0" y="0" font-size="6.8" text-anchor="middle" font-weight="bold" font-family="Liberation Sans" stroke="#000" stroke-width="0.3" transform="translate(64.60,340.50) scale(0.95,1)">b</text>
<text x="0" y="0" font-size="8.2" text-anchor="middle" font-weight="bold" font-family="Liberation Sans" stroke="#000" stroke-width="0.3" transform="translate(50.40,264.70) scale(0.86,1)">a</text>
<text x="91.50" y="341.00" font-size="6.5" text-anchor="middle" font-weight="bold" font-family="Liberation Sans" stroke="#000" stroke-width="0.3">ND</text>
<text x="47.60" y="354.20" font-size="5.4" text-anchor="middle" font-weight="bold" font-family="Liberation Sans" textLength="26.80" lengthAdjust="spacingAndGlyphs" stroke="#000" stroke-width="0.3">Allantoate</text>
<text x="91.35" y="354.20" font-size="5.4" text-anchor="middle" font-weight="bold" font-family="Liberation Sans" textLength="23.30" lengthAdjust="spacingAndGlyphs" stroke="#000" stroke-width="0.3">Allantoin</text>
<text x="0" y="0" font-size="6.2" text-anchor="middle" font-weight="bold" font-family="Liberation Sans" stroke="#000" stroke-width="0.3" textLength="28.30" lengthAdjust="spacingAndGlyphs" transform="translate(9.73,293.40) rotate(-90)">μg N/gDW</text>
<text x="153.90" y="347.34" font-size="5.4" text-anchor="end" font-weight="bold" font-family="Liberation Sans" stroke="#000" stroke-width="0.3">0</text>
<line x1="159.50" y1="328.10" x2="161.10" y2="328.10" stroke="#595959" stroke-width="0.7"/>
<text x="153.90" y="330.04" font-size="5.4" text-anchor="end" font-weight="bold" font-family="Liberation Sans" stroke="#000" stroke-width="0.3">100</text>
<line x1="159.50" y1="310.80" x2="161.10" y2="310.80" stroke="#595959" stroke-width="0.7"/>
<text x="153.90" y="312.74" font-size="5.4" text-anchor="end" font-weight="bold" font-family="Liberation Sans" stroke="#000" stroke-width="0.3">200</text>
<line x1="159.50" y1="293.50" x2="161.10" y2="293.50" stroke="#595959" stroke-width="0.7"/>
<text x="153.90" y="295.44" font-size="5.4" text-anchor="end" font-weight="bold" font-family="Liberation Sans" stroke="#000" stroke-width="0.3">300</text>
<line x1="159.50" y1="276.20" x2="161.10" y2="276.20" stroke="#595959" stroke-width="0.7"/>
<text x="153.90" y="278.14" font-size="5.4" text-anchor="end" font-weight="bold" font-family="Liberation Sans" stroke="#000" stroke-width="0.3">400</text>
<line x1="159.50" y1="258.90" x2="161.10" y2="258.90" stroke="#595959" stroke-width="0.7"/>
<text x="153.90" y="260.84" font-size="5.4" text-anchor="end" font-weight="bold" font-family="Liberation Sans" stroke="#000" stroke-width="0.3">500</text>
<line x1="159.50" y1="241.60" x2="161.10" y2="241.60" stroke="#595959" stroke-width="0.7"/>
<text x="153.90" y="243.54" font-size="5.4" text-anchor="end" font-weight="bold" font-family="Liberation Sans" stroke="#000" stroke-width="0.3">600</text>
<rect x="181.00" y="269.60" width="5.00" height="75.80" fill="#FFC000"/>
<rect x="187.00" y="277.30" width="4.20" height="68.10" fill="#5B9BD5"/>
<rect x="192.70" y="276.70" width="4.10" height="68.70" fill="#70AD47"/>
<rect x="224.20" y="284.20" width="4.60" height="61.20" fill="#FFC000"/>
<rect x="230.00" y="283.80" width="4.20" height="61.60" fill="#5B9BD5"/>
<rect x="235.40" y="279.20" width="4.40" height="66.20" fill="#70AD47"/>
<line x1="183.50" y1="259.30" x2="183.50" y2="279.90" stroke="#6E6E6E" stroke-width="0.7"/>
<line x1="182.10" y1="259.30" x2="184.90" y2="259.30" stroke="#6E6E6E" stroke-width="0.7"/>
<line x1="182.10" y1="279.90" x2="184.90" y2="279.90" stroke="#6E6E6E" stroke-width="0.7"/>
<line x1="189.10" y1="271.10" x2="189.10" y2="283.50" stroke="#6E6E6E" stroke-width="0.7"/>
<line x1="187.70" y1="271.10" x2="190.50" y2="271.10" stroke="#6E6E6E" stroke-width="0.7"/>
<line x1="187.70" y1="283.50" x2="190.50" y2="283.50" stroke="#6E6E6E" stroke-width="0.7"/>
<line x1="194.75" y1="273.00" x2="194.75" y2="280.40" stroke="#6E6E6E" stroke-width="0.7"/>
<line x1="193.35" y1="273.00" x2="196.15" y2="273.00" stroke="#6E6E6E" stroke-width="0.7"/>
<line x1="193.35" y1="280.40" x2="196.15" y2="280.40" stroke="#6E6E6E" stroke-width="0.7"/>
<line x1="226.50" y1="282.00" x2="226.50" y2="286.40" stroke="#6E6E6E" stroke-width="0.7"/>
<line x1="225.10" y1="282.00" x2="227.90" y2="282.00" stroke="#6E6E6E" stroke-width="0.7"/>
<line x1="225.10" y1="286.40" x2="227.90" y2="286.40" stroke="#6E6E6E" stroke-width="0.7"/>
<line x1="232.10" y1="277.30" x2="232.10" y2="290.30" stroke="#6E6E6E" stroke-width="0.7"/>
<line x1="230.70" y1="277.30" x2="233.50" y2="277.30" stroke="#6E6E6E" stroke-width="0.7"/>
<line x1="230.70" y1="290.30" x2="233.50" y2="290.30" stroke="#6E6E6E" stroke-width="0.7"/>
<line x1="237.60" y1="276.10" x2="237.60" y2="282.30" stroke="#6E6E6E" stroke-width="0.7"/>
<line x1="236.20" y1="276.10" x2="239.00" y2="276.10" stroke="#6E6E6E" stroke-width="0.7"/>
<line x1="236.20" y1="282.30" x2="239.00" y2="282.30" stroke="#6E6E6E" stroke-width="0.7"/>
<rect x="159.50" y="242.50" width="85.50" height="102.90" fill="none" stroke="#555" stroke-width="1"/>
<text x="0" y="0" font-size="6.8" text-anchor="middle" font-weight="bold" font-family="Liberation Sans" stroke="#000" stroke-width="0.3" transform="translate(164.80,340.50) scale(0.95,1)">b</text>
<text x="0" y="0" font-size="6.8" text-anchor="middle" font-weight="bold" font-family="Liberation Sans" stroke="#000" stroke-width="0.3" transform="translate(171.10,340.50) scale(0.95,1)">b</text>
<text x="0" y="0" font-size="6.8" text-anchor="middle" font-weight="bold" font-family="Liberation Sans" stroke="#000" stroke-width="0.3" transform="translate(177.60,340.50) scale(0.95,1)">b</text>
<text x="0" y="0" font-size="8.2" text-anchor="middle" font-weight="bold" font-family="Liberation Sans" stroke="#000" stroke-width="0.3" transform="translate(182.30,256.60) scale(0.86,1)">a</text>
<text x="0" y="0" font-size="8.2" text-anchor="middle" font-weight="bold" font-family="Liberation Sans" stroke="#000" stroke-width="0.3" transform="translate(189.00,267.20) scale(0.86,1)">a</text>
<text x="0" y="0" font-size="8.2" text-anchor="middle" font-weight="bold" font-family="Liberation Sans" stroke="#000" stroke-width="0.3" transform="translate(195.00,268.00) scale(0.86,1)">a</text>
<text x="0" y="0" font-size="6.8" text-anchor="middle" font-weight="bold" font-family="Liberation Sans" stroke="#000" stroke-width="0.3" transform="translate(207.70,341.80) scale(0.95,1)">b</text>
<text x="0" y="0" font-size="6.8" text-anchor="middle" font-weight="bold" font-family="Liberation Sans" stroke="#000" stroke-width="0.3" transform="translate(214.20,341.80) scale(0.95,1)">b</text>
<text x="0" y="0" font-size="6.8" text-anchor="middle" font-weight="bold" font-family="Liberation Sans" stroke="#000" stroke-width="0.3" transform="translate(220.50,341.80) scale(0.95,1)">b</text>
<text x="0" y="0" font-size="8.2" text-anchor="middle" font-weight="bold" font-family="Liberation Sans" stroke="#000" stroke-width="0.3" transform="translate(226.50,278.40) scale(0.86,1)">a</text>
<text x="0" y="0" font-size="8.2" text-anchor="middle" font-weight="bold" font-family="Liberation Sans" stroke="#000" stroke-width="0.3" transform="translate(232.00,274.30) scale(0.86,1)">a</text>
<text x="0" y="0" font-size="8.2" text-anchor="middle" font-weight="bold" font-family="Liberation Sans" stroke="#000" stroke-width="0.3" transform="translate(237.50,273.40) scale(0.86,1)">a</text>
<text x="180.70" y="354.20" font-size="5.4" text-anchor="middle" font-weight="bold" font-family="Liberation Sans" textLength="10.60" lengthAdjust="spacingAndGlyphs" stroke="#000" stroke-width="0.3">Asn</text>
<text x="223.75" y="354.20" font-size="5.4" text-anchor="middle" font-weight="bold" font-family="Liberation Sans" textLength="9.70" lengthAdjust="spacingAndGlyphs" stroke="#000" stroke-width="0.3">Gln</text>
<text x="0" y="0" font-size="6.2" text-anchor="middle" font-weight="bold" font-family="Liberation Sans" stroke="#000" stroke-width="0.3" textLength="29.00" lengthAdjust="spacingAndGlyphs" transform="translate(141.53,295.40) rotate(-90)">μg N/gDW</text>
<text x="284.60" y="347.34" font-size="5.4" text-anchor="end" font-weight="bold" font-family="Liberation Sans" stroke="#000" stroke-width="0.3">0</text>
<line x1="289.60" y1="328.13" x2="291.20" y2="328.13" stroke="#595959" stroke-width="0.7"/>
<text x="284.60" y="330.07" font-size="5.4" text-anchor="end" font-weight="bold" font-family="Liberation Sans" stroke="#000" stroke-width="0.3">0.5</text>
<line x1="289.60" y1="310.86" x2="291.20" y2="310.86" stroke="#595959" stroke-width="0.7"/>
<text x="284.60" y="312.80" font-size="5.4" text-anchor="end" font-weight="bold" font-family="Liberation Sans" stroke="#000" stroke-width="0.3">1</text>
<line x1="289.60" y1="293.59" x2="291.20" y2="293.59" stroke="#595959" stroke-width="0.7"/>
<text x="284.60" y="295.53" font-size="5.4" text-anchor="end" font-weight="bold" font-family="Liberation Sans" stroke="#000" stroke-width="0.3">1.5</text>
<line x1="289.60" y1="276.32" x2="291.20" y2="276.32" stroke="#595959" stroke-width="0.7"/>
<text x="284.60" y="278.26" font-size="5.4" text-anchor="end" font-weight="bold" font-family="Liberation Sans" stroke="#000" stroke-width="0.3">2</text>
<line x1="289.60" y1="259.05" x2="291.20" y2="259.05" stroke="#595959" stroke-width="0.7"/>
<text x="284.60" y="260.99" font-size="5.4" text-anchor="end" font-weight="bold" font-family="Liberation Sans" stroke="#000" stroke-width="0.3">2.5</text>
<line x1="289.60" y1="241.78" x2="291.20" y2="241.78" stroke="#595959" stroke-width="0.7"/>
<text x="284.60" y="243.72" font-size="5.4" text-anchor="end" font-weight="bold" font-family="Liberation Sans" stroke="#000" stroke-width="0.3">3</text>
<rect x="294.60" y="345.00" width="4.30" height="0.40" fill="#4472C4"/>
<rect x="300.40" y="345.00" width="4.30" height="0.40" fill="#ED7D31"/>
<rect x="306.10" y="343.20" width="4.30" height="2.20" fill="#A5A5A5"/>
<rect x="311.90" y="305.00" width="4.30" height="40.40" fill="#FFC000"/>
<rect x="317.20" y="306.80" width="5.30" height="38.60" fill="#5B9BD5"/>
<rect x="323.40" y="311.80" width="4.60" height="33.60" fill="#70AD47"/>
<rect x="337.60" y="326.80" width="4.80" height="18.60" fill="#4472C4"/>
<rect x="343.90" y="330.50" width="4.10" height="14.90" fill="#ED7D31"/>
<rect x="349.20" y="331.10" width="5.00" height="14.30" fill="#A5A5A5"/>
<rect x="355.00" y="300.20" width="4.80" height="45.20" fill="#FFC000"/>
<rect x="361.00" y="298.00" width="5.00" height="47.40" fill="#5B9BD5"/>
<rect x="367.00" y="279.20" width="4.60" height="66.20" fill="#70AD47"/>
<line x1="308.25" y1="340.50" x2="308.25" y2="345.40" stroke="#6E6E6E" stroke-width="0.7"/>
<line x1="306.85" y1="340.50" x2="309.65" y2="340.50" stroke="#6E6E6E" stroke-width="0.7"/>
<line x1="306.85" y1="345.40" x2="309.65" y2="345.40" stroke="#6E6E6E" stroke-width="0.7"/>
<line x1="314.05" y1="300.00" x2="314.05" y2="310.00" stroke="#6E6E6E" stroke-width="0.7"/>
<line x1="312.65" y1="300.00" x2="315.45" y2="300.00" stroke="#6E6E6E" stroke-width="0.7"/>
<line x1="312.65" y1="310.00" x2="315.45" y2="310.00" stroke="#6E6E6E" stroke-width="0.7"/>
<line x1="319.85" y1="304.00" x2="319.85" y2="309.60" stroke="#6E6E6E" stroke-width="0.7"/>
<line x1="318.45" y1="304.00" x2="321.25" y2="304.00" stroke="#6E6E6E" stroke-width="0.7"/>
<line x1="318.45" y1="309.60" x2="321.25" y2="309.60" stroke="#6E6E6E" stroke-width="0.7"/>
<line x1="325.70" y1="304.30" x2="325.70" y2="319.30" stroke="#6E6E6E" stroke-width="0.7"/>
<line x1="324.30" y1="304.30" x2="327.10" y2="304.30" stroke="#6E6E6E" stroke-width="0.7"/>
<line x1="324.30" y1="319.30" x2="327.10" y2="319.30" stroke="#6E6E6E" stroke-width="0.7"/>
<line x1="340.00" y1="325.50" x2="340.00" y2="328.00" stroke="#6E6E6E" stroke-width="0.7"/>
<line x1="338.60" y1="325.50" x2="341.40" y2="325.50" stroke="#6E6E6E" stroke-width="0.7"/>
<line x1="338.60" y1="328.00" x2="341.40" y2="328.00" stroke="#6E6E6E" stroke-width="0.7"/>
<line x1="345.95" y1="327.40" x2="345.95" y2="333.60" stroke="#6E6E6E" stroke-width="0.7"/>
<line x1="344.55" y1="327.40" x2="347.35" y2="327.40" stroke="#6E6E6E" stroke-width="0.7"/>
<line x1="344.55" y1="333.60" x2="347.35" y2="333.60" stroke="#6E6E6E" stroke-width="0.7"/>
<line x1="351.70" y1="327.10" x2="351.70" y2="335.10" stroke="#6E6E6E" stroke-width="0.7"/>
<line x1="350.30" y1="327.10" x2="353.10" y2="327.10" stroke="#6E6E6E" stroke-width="0.7"/>
<line x1="350.30" y1="335.10" x2="353.10" y2="335.10" stroke="#6E6E6E" stroke-width="0.7"/>
<line x1="357.40" y1="295.40" x2="357.40" y2="305.00" stroke="#6E6E6E" stroke-width="0.7"/>
<line x1="356.00" y1="295.40" x2="358.80" y2="295.40" stroke="#6E6E6E" stroke-width="0.7"/>
<line x1="356.00" y1="305.00" x2="358.80" y2="305.00" stroke="#6E6E6E" stroke-width="0.7"/>
<line x1="363.50" y1="287.00" x2="363.50" y2="309.00" stroke="#6E6E6E" stroke-width="0.7"/>
<line x1="362.10" y1="287.00" x2="364.90" y2="287.00" stroke="#6E6E6E" stroke-width="0.7"/>
<line x1="362.10" y1="309.00" x2="364.90" y2="309.00" stroke="#6E6E6E" stroke-width="0.7"/>
<line x1="369.30" y1="254.30" x2="369.30" y2="304.10" stroke="#6E6E6E" stroke-width="0.7"/>
<line x1="367.90" y1="254.30" x2="370.70" y2="254.30" stroke="#6E6E6E" stroke-width="0.7"/>
<line x1="367.90" y1="304.10" x2="370.70" y2="304.10" stroke="#6E6E6E" stroke-width="0.7"/>
<rect x="289.60" y="242.50" width="87.20" height="102.90" fill="none" stroke="#555" stroke-width="1"/>
<text x="0" y="0" font-size="6.8" text-anchor="middle" font-weight="bold" font-family="Liberation Sans" stroke="#000" stroke-width="0.3" transform="translate(295.00,341.80) scale(0.95,1)">b</text>
<text x="0" y="0" font-size="6.8" text-anchor="middle" font-weight="bold" font-family="Liberation Sans" stroke="#000" stroke-width="0.3" transform="translate(301.00,341.80) scale(0.95,1)">b</text>
<text x="0" y="0" font-size="6.8" text-anchor="middle" font-weight="bold" font-family="Liberation Sans" stroke="#000" stroke-width="0.3" transform="translate(307.60,336.20) scale(0.95,1)">b</text>
<text x="0" y="0" font-size="8.2" text-anchor="middle" font-weight="bold" font-family="Liberation Sans" stroke="#000" stroke-width="0.3" transform="translate(314.00,297.00) scale(0.86,1)">a</text>
<text x="0" y="0" font-size="8.2" text-anchor="middle" font-weight="bold" font-family="Liberation Sans" stroke="#000" stroke-width="0.3" transform="translate(320.00,301.00) scale(0.86,1)">a</text>
<text x="0" y="0" font-size="8.2" text-anchor="middle" font-weight="bold" font-family="Liberation Sans" stroke="#000" stroke-width="0.3" transform="translate(326.00,301.00) scale(0.86,1)">a</text>
<text x="0" y="0" font-size="6.8" text-anchor="middle" font-weight="bold" font-family="Liberation Sans" stroke="#000" stroke-width="0.3" transform="translate(340.00,321.30) scale(0.95,1)">b</text>
<text x="0" y="0" font-size="6.8" text-anchor="middle" font-weight="bold" font-family="Liberation Sans" stroke="#000" stroke-width="0.3" transform="translate(346.00,323.10) scale(0.95,1)">b</text>
<text x="0" y="0" font-size="6.8" text-anchor="middle" font-weight="bold" font-family="Liberation Sans" stroke="#000" stroke-width="0.3" transform="translate(352.00,322.80) scale(0.95,1)">b</text>
<text x="0" y="0" font-size="8.2" text-anchor="middle" font-weight="bold" font-family="Liberation Sans" stroke="#000" stroke-width="0.3" transform="translate(357.40,293.30) scale(0.86,1)">a</text>
<text x="0" y="0" font-size="8.2" text-anchor="middle" font-weight="bold" font-family="Liberation Sans" stroke="#000" stroke-width="0.3" transform="translate(363.50,285.20) scale(0.86,1)">a</text>
<text x="0" y="0" font-size="8.2" text-anchor="middle" font-weight="bold" font-family="Liberation Sans" stroke="#000" stroke-width="0.3" transform="translate(369.30,251.60) scale(0.86,1)">a</text>
<text x="311.25" y="354.20" font-size="5.4" text-anchor="middle" font-weight="bold" font-family="Liberation Sans" textLength="10.50" lengthAdjust="spacingAndGlyphs" stroke="#000" stroke-width="0.3">Asp</text>
<text x="354.80" y="354.20" font-size="5.4" text-anchor="middle" font-weight="bold" font-family="Liberation Sans" textLength="9.60" lengthAdjust="spacingAndGlyphs" stroke="#000" stroke-width="0.3">Glu</text>
<text x="0" y="0" font-size="6.2" text-anchor="middle" font-weight="bold" font-family="Liberation Sans" stroke="#000" stroke-width="0.3" textLength="29.50" lengthAdjust="spacingAndGlyphs" transform="translate(273.43,293.30) rotate(-90)">μg N/gDW</text>
<text x="419.50" y="346.32" font-size="5.9" text-anchor="end" font-weight="normal" font-family="Liberation Sans" stroke="#000" stroke-width="0.4">0</text>
<line x1="425.20" y1="323.86" x2="426.80" y2="323.86" stroke="#595959" stroke-width="0.7"/>
<text x="419.50" y="325.98" font-size="5.9" text-anchor="end" font-weight="normal" font-family="Liberation Sans" stroke="#000" stroke-width="0.4">0.01</text>
<line x1="425.20" y1="303.52" x2="426.80" y2="303.52" stroke="#595959" stroke-width="0.7"/>
<text x="419.50" y="305.64" font-size="5.9" text-anchor="end" font-weight="normal" font-family="Liberation Sans" stroke="#000" stroke-width="0.4">0.02</text>
<line x1="425.20" y1="283.18" x2="426.80" y2="283.18" stroke="#595959" stroke-width="0.7"/>
<text x="419.50" y="285.30" font-size="5.9" text-anchor="end" font-weight="normal" font-family="Liberation Sans" stroke="#000" stroke-width="0.4">0.03</text>
<line x1="425.20" y1="262.84" x2="426.80" y2="262.84" stroke="#595959" stroke-width="0.7"/>
<text x="419.50" y="264.96" font-size="5.9" text-anchor="end" font-weight="normal" font-family="Liberation Sans" stroke="#000" stroke-width="0.4">0.04</text>
<line x1="425.20" y1="242.50" x2="426.80" y2="242.50" stroke="#595959" stroke-width="0.7"/>
<text x="419.50" y="244.62" font-size="5.9" text-anchor="end" font-weight="normal" font-family="Liberation Sans" stroke="#000" stroke-width="0.4">0.05</text>
<rect x="430.00" y="333.90" width="5.00" height="10.30" fill="#4472C4"/>
<rect x="436.00" y="320.50" width="5.00" height="23.70" fill="#ED7D31"/>
<rect x="442.20" y="311.20" width="4.60" height="33.00" fill="#A5A5A5"/>
<rect x="448.00" y="302.20" width="4.60" height="42.00" fill="#FFC000"/>
<rect x="453.90" y="287.00" width="5.00" height="57.20" fill="#5B9BD5"/>
<rect x="459.90" y="317.40" width="4.90" height="26.80" fill="#70AD47"/>
<rect x="474.60" y="338.80" width="5.00" height="5.40" fill="#4472C4"/>
<rect x="480.80" y="342.10" width="4.40" height="2.10" fill="#ED7D31"/>
<rect x="487.00" y="342.30" width="4.40" height="1.90" fill="#A5A5A5"/>
<rect x="492.40" y="279.20" width="5.00" height="65.00" fill="#FFC000"/>
<rect x="498.60" y="296.80" width="5.00" height="47.40" fill="#5B9BD5"/>
<rect x="504.80" y="267.10" width="4.30" height="77.10" fill="#70AD47"/>
<line x1="432.50" y1="329.20" x2="432.50" y2="338.60" stroke="#6E6E6E" stroke-width="0.7"/>
<line x1="431.10" y1="329.20" x2="433.90" y2="329.20" stroke="#6E6E6E" stroke-width="0.7"/>
<line x1="431.10" y1="338.60" x2="433.90" y2="338.60" stroke="#6E6E6E" stroke-width="0.7"/>
<line x1="438.50" y1="316.40" x2="438.50" y2="324.60" stroke="#6E6E6E" stroke-width="0.7"/>
<line x1="437.10" y1="316.40" x2="439.90" y2="316.40" stroke="#6E6E6E" stroke-width="0.7"/>
<line x1="437.10" y1="324.60" x2="439.90" y2="324.60" stroke="#6E6E6E" stroke-width="0.7"/>
<line x1="444.50" y1="282.30" x2="444.50" y2="340.10" stroke="#6E6E6E" stroke-width="0.7"/>
<line x1="443.10" y1="282.30" x2="445.90" y2="282.30" stroke="#6E6E6E" stroke-width="0.7"/>
<line x1="443.10" y1="340.10" x2="445.90" y2="340.10" stroke="#6E6E6E" stroke-width="0.7"/>
<line x1="450.30" y1="278.60" x2="450.30" y2="325.80" stroke="#6E6E6E" stroke-width="0.7"/>
<line x1="448.90" y1="278.60" x2="451.70" y2="278.60" stroke="#6E6E6E" stroke-width="0.7"/>
<line x1="448.90" y1="325.80" x2="451.70" y2="325.80" stroke="#6E6E6E" stroke-width="0.7"/>
<line x1="456.40" y1="263.40" x2="456.40" y2="310.60" stroke="#6E6E6E" stroke-width="0.7"/>
<line x1="455.00" y1="263.40" x2="457.80" y2="263.40" stroke="#6E6E6E" stroke-width="0.7"/>
<line x1="455.00" y1="310.60" x2="457.80" y2="310.60" stroke="#6E6E6E" stroke-width="0.7"/>
<line x1="462.35" y1="303.00" x2="462.35" y2="331.80" stroke="#6E6E6E" stroke-width="0.7"/>
<line x1="460.95" y1="303.00" x2="463.75" y2="303.00" stroke="#6E6E6E" stroke-width="0.7"/>
<line x1="460.95" y1="331.80" x2="463.75" y2="331.80" stroke="#6E6E6E" stroke-width="0.7"/>
<line x1="477.10" y1="336.70" x2="477.10" y2="340.90" stroke="#6E6E6E" stroke-width="0.7"/>
<line x1="475.70" y1="336.70" x2="478.50" y2="336.70" stroke="#6E6E6E" stroke-width="0.7"/>
<line x1="475.70" y1="340.90" x2="478.50" y2="340.90" stroke="#6E6E6E" stroke-width="0.7"/>
<line x1="483.00" y1="340.50" x2="483.00" y2="343.70" stroke="#6E6E6E" stroke-width="0.7"/>
<line x1="481.60" y1="340.50" x2="484.40" y2="340.50" stroke="#6E6E6E" stroke-width="0.7"/>
<line x1="481.60" y1="343.70" x2="484.40" y2="343.70" stroke="#6E6E6E" stroke-width="0.7"/>
<line x1="489.20" y1="339.20" x2="489.20" y2="344.20" stroke="#6E6E6E" stroke-width="0.7"/>
<line x1="487.80" y1="339.20" x2="490.60" y2="339.20" stroke="#6E6E6E" stroke-width="0.7"/>
<line x1="487.80" y1="344.20" x2="490.60" y2="344.20" stroke="#6E6E6E" stroke-width="0.7"/>
<line x1="494.90" y1="263.40" x2="494.90" y2="295.00" stroke="#6E6E6E" stroke-width="0.7"/>
<line x1="493.50" y1="263.40" x2="496.30" y2="263.40" stroke="#6E6E6E" stroke-width="0.7"/>
<line x1="493.50" y1="295.00" x2="496.30" y2="295.00" stroke="#6E6E6E" stroke-width="0.7"/>
<line x1="501.10" y1="278.60" x2="501.10" y2="315.00" stroke="#6E6E6E" stroke-width="0.7"/>
<line x1="499.70" y1="278.60" x2="502.50" y2="278.60" stroke="#6E6E6E" stroke-width="0.7"/>
<line x1="499.70" y1="315.00" x2="502.50" y2="315.00" stroke="#6E6E6E" stroke-width="0.7"/>
<line x1="506.95" y1="257.20" x2="506.95" y2="277.00" stroke="#6E6E6E" stroke-width="0.7"/>
<line x1="505.55" y1="257.20" x2="508.35" y2="257.20" stroke="#6E6E6E" stroke-width="0.7"/>
<line x1="505.55" y1="277.00" x2="508.35" y2="277.00" stroke="#6E6E6E" stroke-width="0.7"/>
<rect x="425.20" y="242.50" width="89.20" height="101.70" fill="none" stroke="#555" stroke-width="1"/>
<text x="0" y="0" font-size="8.2" text-anchor="middle" font-weight="bold" font-family="Liberation Sans" stroke="#000" stroke-width="0.3" transform="translate(432.50,326.50) scale(0.86,1)">a</text>
<text x="0" y="0" font-size="8.2" text-anchor="middle" font-weight="bold" font-family="Liberation Sans" stroke="#000" stroke-width="0.3" transform="translate(438.50,312.80) scale(0.86,1)">a</text>
<text x="0" y="0" font-size="8.2" text-anchor="middle" font-weight="bold" font-family="Liberation Sans" stroke="#000" stroke-width="0.3" transform="translate(444.50,281.50) scale(0.86,1)">a</text>
<text x="0" y="0" font-size="8.2" text-anchor="middle" font-weight="bold" font-family="Liberation Sans" stroke="#000" stroke-width="0.3" transform="translate(450.30,276.50) scale(0.86,1)">a</text>
<text x="0" y="0" font-size="8.2" text-anchor="middle" font-weight="bold" font-family="Liberation Sans" stroke="#000" stroke-width="0.3" transform="translate(456.40,260.30) scale(0.86,1)">a</text>
<text x="0" y="0" font-size="8.2" text-anchor="middle" font-weight="bold" font-family="Liberation Sans" stroke="#000" stroke-width="0.3" transform="translate(462.30,302.90) scale(0.86,1)">a</text>
<text x="0" y="0" font-size="6.8" text-anchor="middle" font-weight="bold" font-family="Liberation Sans" stroke="#000" stroke-width="0.3" transform="translate(477.00,333.10) scale(0.95,1)">b</text>
<text x="0" y="0" font-size="6.8" text-anchor="middle" font-weight="bold" font-family="Liberation Sans" stroke="#000" stroke-width="0.3" transform="translate(483.00,337.50) scale(0.95,1)">b</text>
<text x="0" y="0" font-size="6.8" text-anchor="middle" font-weight="bold" font-family="Liberation Sans" stroke="#000" stroke-width="0.3" transform="translate(489.00,336.20) scale(0.95,1)">b</text>
<text x="0" y="0" font-size="8.2" text-anchor="middle" font-weight="bold" font-family="Liberation Sans" stroke="#000" stroke-width="0.3" transform="translate(495.00,259.70) scale(0.86,1)">a</text>
<text x="0" y="0" font-size="7.3" text-anchor="middle" font-weight="bold" font-family="Liberation Sans" stroke="#000" stroke-width="0.3" transform="translate(500.30,276.70) scale(0.9,1)">ab</text>
<text x="0" y="0" font-size="8.2" text-anchor="middle" font-weight="bold" font-family="Liberation Sans" stroke="#000" stroke-width="0.3" transform="translate(507.00,254.70) scale(0.86,1)">a</text>
<text x="447.25" y="354.20" font-size="6" text-anchor="middle" font-weight="normal" font-family="Liberation Sans" textLength="12.70" lengthAdjust="spacingAndGlyphs" stroke="#000" stroke-width="0.4">Urea</text>
<text x="492.05" y="354.20" font-size="6" text-anchor="middle" font-weight="normal" font-family="Liberation Sans" textLength="24.90" lengthAdjust="spacingAndGlyphs" stroke="#000" stroke-width="0.4">Ammonia</text>
<text x="0" y="0" font-size="6.4" text-anchor="middle" font-weight="normal" font-family="Liberation Sans" stroke="#000" stroke-width="0.35" textLength="30.00" lengthAdjust="spacingAndGlyphs" transform="translate(402.30,287.00) rotate(-90)">μgN/gDW</text>
<text x="23.40" y="539.84" font-size="5.4" text-anchor="end" font-weight="bold" font-family="Liberation Sans" stroke="#000" stroke-width="0.3">0</text>
<line x1="28.60" y1="527.21" x2="30.20" y2="527.21" stroke="#595959" stroke-width="0.7"/>
<text x="23.40" y="529.15" font-size="5.4" text-anchor="end" font-weight="bold" font-family="Liberation Sans" stroke="#000" stroke-width="0.3">10</text>
<line x1="28.60" y1="516.52" x2="30.20" y2="516.52" stroke="#595959" stroke-width="0.7"/>
<text x="23.40" y="518.46" font-size="5.4" text-anchor="end" font-weight="bold" font-family="Liberation Sans" stroke="#000" stroke-width="0.3">20</text>
<line x1="28.60" y1="505.83" x2="30.20" y2="505.83" stroke="#595959" stroke-width="0.7"/>
<text x="23.40" y="507.77" font-size="5.4" text-anchor="end" font-weight="bold" font-family="Liberation Sans" stroke="#000" stroke-width="0.3">30</text>
<line x1="28.60" y1="495.14" x2="30.20" y2="495.14" stroke="#595959" stroke-width="0.7"/>
<text x="23.40" y="497.08" font-size="5.4" text-anchor="end" font-weight="bold" font-family="Liberation Sans" stroke="#000" stroke-width="0.3">40</text>
<line x1="28.60" y1="484.45" x2="30.20" y2="484.45" stroke="#595959" stroke-width="0.7"/>
<text x="23.40" y="486.39" font-size="5.4" text-anchor="end" font-weight="bold" font-family="Liberation Sans" stroke="#000" stroke-width="0.3">50</text>
<line x1="28.60" y1="473.76" x2="30.20" y2="473.76" stroke="#595959" stroke-width="0.7"/>
<text x="23.40" y="475.70" font-size="5.4" text-anchor="end" font-weight="bold" font-family="Liberation Sans" stroke="#000" stroke-width="0.3">60</text>
<line x1="28.60" y1="463.07" x2="30.20" y2="463.07" stroke="#595959" stroke-width="0.7"/>
<text x="23.40" y="465.01" font-size="5.4" text-anchor="end" font-weight="bold" font-family="Liberation Sans" stroke="#000" stroke-width="0.3">70</text>
<line x1="28.60" y1="452.38" x2="30.20" y2="452.38" stroke="#595959" stroke-width="0.7"/>
<text x="23.40" y="454.32" font-size="5.4" text-anchor="end" font-weight="bold" font-family="Liberation Sans" stroke="#000" stroke-width="0.3">80</text>
<line x1="28.60" y1="441.69" x2="30.20" y2="441.69" stroke="#595959" stroke-width="0.7"/>
<text x="23.40" y="443.63" font-size="5.4" text-anchor="end" font-weight="bold" font-family="Liberation Sans" stroke="#000" stroke-width="0.3">90</text>
<line x1="28.60" y1="431.00" x2="30.20" y2="431.00" stroke="#595959" stroke-width="0.7"/>
<text x="23.40" y="432.94" font-size="5.4" text-anchor="end" font-weight="bold" font-family="Liberation Sans" stroke="#000" stroke-width="0.3">100</text>
<rect x="51.00" y="449.90" width="5.00" height="88.20" fill="#FFC000"/>
<line x1="53.50" y1="439.30" x2="53.50" y2="462.30" stroke="#6E6E6E" stroke-width="0.7"/>
<line x1="52.10" y1="439.30" x2="54.90" y2="439.30" stroke="#6E6E6E" stroke-width="0.7"/>
<line x1="52.10" y1="462.30" x2="54.90" y2="462.30" stroke="#6E6E6E" stroke-width="0.7"/>
<rect x="28.60" y="431.20" width="88.90" height="106.90" fill="none" stroke="#555" stroke-width="1"/>
<text x="0" y="0" font-size="6.8" text-anchor="middle" font-weight="bold" font-family="Liberation Sans" stroke="#000" stroke-width="0.3" transform="translate(34.60,535.50) scale(0.95,1)">b</text>
<text x="0" y="0" font-size="6.8" text-anchor="middle" font-weight="bold" font-family="Liberation Sans" stroke="#000" stroke-width="0.3" transform="translate(41.00,535.50) scale(0.95,1)">b</text>
<text x="0" y="0" font-size="6.8" text-anchor="middle" font-weight="bold" font-family="Liberation Sans" stroke="#000" stroke-width="0.3" transform="translate(47.00,535.50) scale(0.95,1)">b</text>
<text x="0" y="0" font-size="6.8" text-anchor="middle" font-weight="bold" font-family="Liberation Sans" stroke="#000" stroke-width="0.3" transform="translate(60.80,534.90) scale(0.95,1)">b</text>
<text x="0" y="0" font-size="6.8" text-anchor="middle" font-weight="bold" font-family="Liberation Sans" stroke="#000" stroke-width="0.3" transform="translate(66.50,534.90) scale(0.95,1)">b</text>
<text x="0" y="0" font-size="8.2" text-anchor="middle" font-weight="bold" font-family="Liberation Sans" stroke="#000" stroke-width="0.3" transform="translate(53.50,438.40) scale(0.86,1)">a</text>
<text x="94.40" y="534.20" font-size="6.5" text-anchor="middle" font-weight="bold" font-family="Liberation Sans" stroke="#000" stroke-width="0.3">ND</text>
<text x="50.75" y="547.30" font-size="5.4" text-anchor="middle" font-weight="bold" font-family="Liberation Sans" textLength="28.10" lengthAdjust="spacingAndGlyphs" stroke="#000" stroke-width="0.3">Allantoate</text>
<text x="95.00" y="547.00" font-size="5.4" text-anchor="middle" font-weight="bold" font-family="Liberation Sans" textLength="24.00" lengthAdjust="spacingAndGlyphs" stroke="#000" stroke-width="0.3">Allantoin</text>
<text x="0" y="0" font-size="6.2" text-anchor="middle" font-weight="bold" font-family="Liberation Sans" stroke="#000" stroke-width="0.3" textLength="31.30" lengthAdjust="spacingAndGlyphs" transform="translate(10.23,484.80) rotate(-90)">μg N/gDW</text>
<text x="158.40" y="539.84" font-size="5.4" text-anchor="end" font-weight="bold" font-family="Liberation Sans" stroke="#000" stroke-width="0.3">0</text>
<line x1="164.00" y1="526.00" x2="165.60" y2="526.00" stroke="#595959" stroke-width="0.7"/>
<text x="158.40" y="527.94" font-size="5.4" text-anchor="end" font-weight="bold" font-family="Liberation Sans" stroke="#000" stroke-width="0.3">50</text>
<line x1="164.00" y1="514.10" x2="165.60" y2="514.10" stroke="#595959" stroke-width="0.7"/>
<text x="158.40" y="516.04" font-size="5.4" text-anchor="end" font-weight="bold" font-family="Liberation Sans" stroke="#000" stroke-width="0.3">100</text>
<line x1="164.00" y1="502.20" x2="165.60" y2="502.20" stroke="#595959" stroke-width="0.7"/>
<text x="158.40" y="504.14" font-size="5.4" text-anchor="end" font-weight="bold" font-family="Liberation Sans" stroke="#000" stroke-width="0.3">150</text>
<line x1="164.00" y1="490.30" x2="165.60" y2="490.30" stroke="#595959" stroke-width="0.7"/>
<text x="158.40" y="492.24" font-size="5.4" text-anchor="end" font-weight="bold" font-family="Liberation Sans" stroke="#000" stroke-width="0.3">200</text>
<line x1="164.00" y1="478.40" x2="165.60" y2="478.40" stroke="#595959" stroke-width="0.7"/>
<text x="158.40" y="480.34" font-size="5.4" text-anchor="end" font-weight="bold" font-family="Liberation Sans" stroke="#000" stroke-width="0.3">250</text>
<line x1="164.00" y1="466.50" x2="165.60" y2="466.50" stroke="#595959" stroke-width="0.7"/>
<text x="158.40" y="468.44" font-size="5.4" text-anchor="end" font-weight="bold" font-family="Liberation Sans" stroke="#000" stroke-width="0.3">300</text>
<line x1="164.00" y1="454.60" x2="165.60" y2="454.60" stroke="#595959" stroke-width="0.7"/>
<text x="158.40" y="456.54" font-size="5.4" text-anchor="end" font-weight="bold" font-family="Liberation Sans" stroke="#000" stroke-width="0.3">350</text>
<line x1="164.00" y1="442.70" x2="165.60" y2="442.70" stroke="#595959" stroke-width="0.7"/>
<text x="158.40" y="444.64" font-size="5.4" text-anchor="end" font-weight="bold" font-family="Liberation Sans" stroke="#000" stroke-width="0.3">400</text>
<line x1="164.00" y1="430.80" x2="165.60" y2="430.80" stroke="#595959" stroke-width="0.7"/>
<text x="158.40" y="432.74" font-size="5.4" text-anchor="end" font-weight="bold" font-family="Liberation Sans" stroke="#000" stroke-width="0.3">450</text>
<rect x="186.30" y="474.20" width="4.70" height="63.90" fill="#FFC000"/>
<rect x="191.80" y="481.30" width="5.00" height="56.80" fill="#5B9BD5"/>
<rect x="198.00" y="486.90" width="5.00" height="51.20" fill="#70AD47"/>
<rect x="230.00" y="461.10" width="5.00" height="77.00" fill="#FFC000"/>
<rect x="236.00" y="459.90" width="5.00" height="78.20" fill="#5B9BD5"/>
<rect x="242.50" y="464.20" width="4.50" height="73.90" fill="#70AD47"/>
<line x1="188.65" y1="468.80" x2="188.65" y2="479.60" stroke="#6E6E6E" stroke-width="0.7"/>
<line x1="187.25" y1="468.80" x2="190.05" y2="468.80" stroke="#6E6E6E" stroke-width="0.7"/>
<line x1="187.25" y1="479.60" x2="190.05" y2="479.60" stroke="#6E6E6E" stroke-width="0.7"/>
<line x1="194.30" y1="472.30" x2="194.30" y2="490.30" stroke="#6E6E6E" stroke-width="0.7"/>
<line x1="192.90" y1="472.30" x2="195.70" y2="472.30" stroke="#6E6E6E" stroke-width="0.7"/>
<line x1="192.90" y1="490.30" x2="195.70" y2="490.30" stroke="#6E6E6E" stroke-width="0.7"/>
<line x1="200.50" y1="478.30" x2="200.50" y2="495.50" stroke="#6E6E6E" stroke-width="0.7"/>
<line x1="199.10" y1="478.30" x2="201.90" y2="478.30" stroke="#6E6E6E" stroke-width="0.7"/>
<line x1="199.10" y1="495.50" x2="201.90" y2="495.50" stroke="#6E6E6E" stroke-width="0.7"/>
<line x1="232.50" y1="446.20" x2="232.50" y2="476.00" stroke="#6E6E6E" stroke-width="0.7"/>
<line x1="231.10" y1="446.20" x2="233.90" y2="446.20" stroke="#6E6E6E" stroke-width="0.7"/>
<line x1="231.10" y1="476.00" x2="233.90" y2="476.00" stroke="#6E6E6E" stroke-width="0.7"/>
<line x1="238.50" y1="448.40" x2="238.50" y2="471.40" stroke="#6E6E6E" stroke-width="0.7"/>
<line x1="237.10" y1="448.40" x2="239.90" y2="448.40" stroke="#6E6E6E" stroke-width="0.7"/>
<line x1="237.10" y1="471.40" x2="239.90" y2="471.40" stroke="#6E6E6E" stroke-width="0.7"/>
<line x1="244.75" y1="446.20" x2="244.75" y2="482.20" stroke="#6E6E6E" stroke-width="0.7"/>
<line x1="243.35" y1="446.20" x2="246.15" y2="446.20" stroke="#6E6E6E" stroke-width="0.7"/>
<line x1="243.35" y1="482.20" x2="246.15" y2="482.20" stroke="#6E6E6E" stroke-width="0.7"/>
<rect x="164.00" y="431.20" width="88.50" height="106.90" fill="none" stroke="#555" stroke-width="1"/>
<text x="0" y="0" font-size="6.8" text-anchor="middle" font-weight="bold" font-family="Liberation Sans" stroke="#000" stroke-width="0.3" transform="translate(170.90,534.90) scale(0.95,1)">b</text>
<text x="0" y="0" font-size="6.8" text-anchor="middle" font-weight="bold" font-family="Liberation Sans" stroke="#000" stroke-width="0.3" transform="translate(176.80,534.90) scale(0.95,1)">b</text>
<text x="0" y="0" font-size="6.8" text-anchor="middle" font-weight="bold" font-family="Liberation Sans" stroke="#000" stroke-width="0.3" transform="translate(182.90,534.90) scale(0.95,1)">b</text>
<text x="0" y="0" font-size="8.2" text-anchor="middle" font-weight="bold" font-family="Liberation Sans" stroke="#000" stroke-width="0.3" transform="translate(188.50,464.00) scale(0.86,1)">a</text>
<text x="0" y="0" font-size="8.2" text-anchor="middle" font-weight="bold" font-family="Liberation Sans" stroke="#000" stroke-width="0.3" transform="translate(194.50,470.20) scale(0.86,1)">a</text>
<text x="0" y="0" font-size="8.2" text-anchor="middle" font-weight="bold" font-family="Liberation Sans" stroke="#000" stroke-width="0.3" transform="translate(200.50,475.20) scale(0.86,1)">a</text>
<text x="0" y="0" font-size="6.8" text-anchor="middle" font-weight="bold" font-family="Liberation Sans" stroke="#000" stroke-width="0.3" transform="translate(213.20,533.70) scale(0.95,1)">b</text>
<text x="0" y="0" font-size="6.8" text-anchor="middle" font-weight="bold" font-family="Liberation Sans" stroke="#000" stroke-width="0.3" transform="translate(220.00,533.70) scale(0.95,1)">b</text>
<text x="0" y="0" font-size="6.8" text-anchor="middle" font-weight="bold" font-family="Liberation Sans" stroke="#000" stroke-width="0.3" transform="translate(227.00,533.70) scale(0.95,1)">b</text>
<text x="0" y="0" font-size="8.2" text-anchor="middle" font-weight="bold" font-family="Liberation Sans" stroke="#000" stroke-width="0.3" transform="translate(232.50,442.80) scale(0.86,1)">a</text>
<text x="0" y="0" font-size="8.2" text-anchor="middle" font-weight="bold" font-family="Liberation Sans" stroke="#000" stroke-width="0.3" transform="translate(238.50,442.80) scale(0.86,1)">a</text>
<text x="0" y="0" font-size="8.2" text-anchor="middle" font-weight="bold" font-family="Liberation Sans" stroke="#000" stroke-width="0.3" transform="translate(244.50,442.80) scale(0.86,1)">a</text>
<text x="186.05" y="547.00" font-size="5.4" text-anchor="middle" font-weight="bold" font-family="Liberation Sans" textLength="10.90" lengthAdjust="spacingAndGlyphs" stroke="#000" stroke-width="0.3">Asn</text>
<text x="229.95" y="547.00" font-size="5.4" text-anchor="middle" font-weight="bold" font-family="Liberation Sans" textLength="9.70" lengthAdjust="spacingAndGlyphs" stroke="#000" stroke-width="0.3">Gln</text>
<text x="0" y="0" font-size="6.2" text-anchor="middle" font-weight="bold" font-family="Liberation Sans" stroke="#000" stroke-width="0.3" textLength="29.00" lengthAdjust="spacingAndGlyphs" transform="translate(145.83,484.00) rotate(-90)">μgN/gDW</text>
<text x="293.30" y="539.84" font-size="5.4" text-anchor="end" font-weight="bold" font-family="Liberation Sans" stroke="#000" stroke-width="0.3">0</text>
<line x1="298.50" y1="523.54" x2="300.10" y2="523.54" stroke="#595959" stroke-width="0.7"/>
<text x="293.30" y="525.48" font-size="5.4" text-anchor="end" font-weight="bold" font-family="Liberation Sans" stroke="#000" stroke-width="0.3">20</text>
<line x1="298.50" y1="509.18" x2="300.10" y2="509.18" stroke="#595959" stroke-width="0.7"/>
<text x="293.30" y="511.12" font-size="5.4" text-anchor="end" font-weight="bold" font-family="Liberation Sans" stroke="#000" stroke-width="0.3">40</text>
<line x1="298.50" y1="494.82" x2="300.10" y2="494.82" stroke="#595959" stroke-width="0.7"/>
<text x="293.30" y="496.76" font-size="5.4" text-anchor="end" font-weight="bold" font-family="Liberation Sans" stroke="#000" stroke-width="0.3">60</text>
<line x1="298.50" y1="480.46" x2="300.10" y2="480.46" stroke="#595959" stroke-width="0.7"/>
<text x="293.30" y="482.40" font-size="5.4" text-anchor="end" font-weight="bold" font-family="Liberation Sans" stroke="#000" stroke-width="0.3">80</text>
<line x1="298.50" y1="466.10" x2="300.10" y2="466.10" stroke="#595959" stroke-width="0.7"/>
<text x="293.30" y="468.04" font-size="5.4" text-anchor="end" font-weight="bold" font-family="Liberation Sans" stroke="#000" stroke-width="0.3">100</text>
<line x1="298.50" y1="451.74" x2="300.10" y2="451.74" stroke="#595959" stroke-width="0.7"/>
<text x="293.30" y="453.68" font-size="5.4" text-anchor="end" font-weight="bold" font-family="Liberation Sans" stroke="#000" stroke-width="0.3">120</text>
<line x1="298.50" y1="437.38" x2="300.10" y2="437.38" stroke="#595959" stroke-width="0.7"/>
<text x="293.30" y="439.32" font-size="5.4" text-anchor="end" font-weight="bold" font-family="Liberation Sans" stroke="#000" stroke-width="0.3">140</text>
<rect x="320.90" y="519.20" width="5.00" height="18.90" fill="#FFC000"/>
<rect x="327.10" y="518.60" width="5.00" height="19.50" fill="#5B9BD5"/>
<rect x="333.00" y="523.00" width="5.00" height="15.10" fill="#70AD47"/>
<rect x="348.00" y="528.60" width="4.30" height="9.50" fill="#4472C4"/>
<rect x="353.80" y="527.30" width="4.70" height="10.80" fill="#ED7D31"/>
<rect x="359.80" y="525.80" width="4.30" height="12.30" fill="#A5A5A5"/>
<rect x="365.50" y="473.80" width="4.60" height="64.30" fill="#FFC000"/>
<rect x="371.10" y="472.60" width="5.00" height="65.50" fill="#5B9BD5"/>
<rect x="377.40" y="467.10" width="4.70" height="71.00" fill="#70AD47"/>
<line x1="323.40" y1="517.10" x2="323.40" y2="521.30" stroke="#6E6E6E" stroke-width="0.7"/>
<line x1="322.00" y1="517.10" x2="324.80" y2="517.10" stroke="#6E6E6E" stroke-width="0.7"/>
<line x1="322.00" y1="521.30" x2="324.80" y2="521.30" stroke="#6E6E6E" stroke-width="0.7"/>
<line x1="329.60" y1="514.30" x2="329.60" y2="522.90" stroke="#6E6E6E" stroke-width="0.7"/>
<line x1="328.20" y1="514.30" x2="331.00" y2="514.30" stroke="#6E6E6E" stroke-width="0.7"/>
<line x1="328.20" y1="522.90" x2="331.00" y2="522.90" stroke="#6E6E6E" stroke-width="0.7"/>
<line x1="335.50" y1="521.10" x2="335.50" y2="524.90" stroke="#6E6E6E" stroke-width="0.7"/>
<line x1="334.10" y1="521.10" x2="336.90" y2="521.10" stroke="#6E6E6E" stroke-width="0.7"/>
<line x1="334.10" y1="524.90" x2="336.90" y2="524.90" stroke="#6E6E6E" stroke-width="0.7"/>
<line x1="350.15" y1="527.50" x2="350.15" y2="529.70" stroke="#6E6E6E" stroke-width="0.7"/>
<line x1="348.75" y1="527.50" x2="351.55" y2="527.50" stroke="#6E6E6E" stroke-width="0.7"/>
<line x1="348.75" y1="529.70" x2="351.55" y2="529.70" stroke="#6E6E6E" stroke-width="0.7"/>
<line x1="356.15" y1="526.50" x2="356.15" y2="528.10" stroke="#6E6E6E" stroke-width="0.7"/>
<line x1="354.75" y1="526.50" x2="357.55" y2="526.50" stroke="#6E6E6E" stroke-width="0.7"/>
<line x1="354.75" y1="528.10" x2="357.55" y2="528.10" stroke="#6E6E6E" stroke-width="0.7"/>
<line x1="361.95" y1="525.00" x2="361.95" y2="526.60" stroke="#6E6E6E" stroke-width="0.7"/>
<line x1="360.55" y1="525.00" x2="363.35" y2="525.00" stroke="#6E6E6E" stroke-width="0.7"/>
<line x1="360.55" y1="526.60" x2="363.35" y2="526.60" stroke="#6E6E6E" stroke-width="0.7"/>
<line x1="367.80" y1="468.00" x2="367.80" y2="479.60" stroke="#6E6E6E" stroke-width="0.7"/>
<line x1="366.40" y1="468.00" x2="369.20" y2="468.00" stroke="#6E6E6E" stroke-width="0.7"/>
<line x1="366.40" y1="479.60" x2="369.20" y2="479.60" stroke="#6E6E6E" stroke-width="0.7"/>
<line x1="373.60" y1="458.00" x2="373.60" y2="487.20" stroke="#6E6E6E" stroke-width="0.7"/>
<line x1="372.20" y1="458.00" x2="375.00" y2="458.00" stroke="#6E6E6E" stroke-width="0.7"/>
<line x1="372.20" y1="487.20" x2="375.00" y2="487.20" stroke="#6E6E6E" stroke-width="0.7"/>
<line x1="379.75" y1="460.10" x2="379.75" y2="474.10" stroke="#6E6E6E" stroke-width="0.7"/>
<line x1="378.35" y1="460.10" x2="381.15" y2="460.10" stroke="#6E6E6E" stroke-width="0.7"/>
<line x1="378.35" y1="474.10" x2="381.15" y2="474.10" stroke="#6E6E6E" stroke-width="0.7"/>
<rect x="298.50" y="431.20" width="89.10" height="106.90" fill="none" stroke="#555" stroke-width="1"/>
<text x="0" y="0" font-size="6.8" text-anchor="middle" font-weight="bold" font-family="Liberation Sans" stroke="#000" stroke-width="0.3" transform="translate(303.50,534.90) scale(0.95,1)">b</text>
<text x="0" y="0" font-size="6.8" text-anchor="middle" font-weight="bold" font-family="Liberation Sans" stroke="#000" stroke-width="0.3" transform="translate(310.10,534.90) scale(0.95,1)">b</text>
<text x="0" y="0" font-size="6.8" text-anchor="middle" font-weight="bold" font-family="Liberation Sans" stroke="#000" stroke-width="0.3" transform="translate(316.80,534.90) scale(0.95,1)">b</text>
<text x="0" y="0" font-size="8.2" text-anchor="middle" font-weight="bold" font-family="Liberation Sans" stroke="#000" stroke-width="0.3" transform="translate(323.40,515.30) scale(0.86,1)">a</text>
<text x="0" y="0" font-size="8.2" text-anchor="middle" font-weight="bold" font-family="Liberation Sans" stroke="#000" stroke-width="0.3" transform="translate(329.60,512.20) scale(0.86,1)">a</text>
<text x="0" y="0" font-size="8.2" text-anchor="middle" font-weight="bold" font-family="Liberation Sans" stroke="#000" stroke-width="0.3" transform="translate(335.50,517.20) scale(0.86,1)">a</text>
<text x="0" y="0" font-size="6.8" text-anchor="middle" font-weight="bold" font-family="Liberation Sans" stroke="#000" stroke-width="0.3" transform="translate(350.20,523.70) scale(0.95,1)">b</text>
<text x="0" y="0" font-size="6.8" text-anchor="middle" font-weight="bold" font-family="Liberation Sans" stroke="#000" stroke-width="0.3" transform="translate(356.10,522.50) scale(0.95,1)">b</text>
<text x="0" y="0" font-size="6.8" text-anchor="middle" font-weight="bold" font-family="Liberation Sans" stroke="#000" stroke-width="0.3" transform="translate(362.00,520.60) scale(0.95,1)">b</text>
<text x="0" y="0" font-size="8.2" text-anchor="middle" font-weight="bold" font-family="Liberation Sans" stroke="#000" stroke-width="0.3" transform="translate(367.80,465.20) scale(0.86,1)">a</text>
<text x="0" y="0" font-size="8.2" text-anchor="middle" font-weight="bold" font-family="Liberation Sans" stroke="#000" stroke-width="0.3" transform="translate(373.60,455.50) scale(0.86,1)">a</text>
<text x="0" y="0" font-size="8.2" text-anchor="middle" font-weight="bold" font-family="Liberation Sans" stroke="#000" stroke-width="0.3" transform="translate(379.80,457.10) scale(0.86,1)">a</text>
<text x="320.90" y="547.00" font-size="5.4" text-anchor="middle" font-weight="bold" font-family="Liberation Sans" textLength="10.60" lengthAdjust="spacingAndGlyphs" stroke="#000" stroke-width="0.3">Asp</text>
<text x="365.05" y="547.00" font-size="5.4" text-anchor="middle" font-weight="bold" font-family="Liberation Sans" textLength="9.70" lengthAdjust="spacingAndGlyphs" stroke="#000" stroke-width="0.3">Glu</text>
<text x="0" y="0" font-size="6.2" text-anchor="middle" font-weight="bold" font-family="Liberation Sans" stroke="#000" stroke-width="0.3" textLength="31.30" lengthAdjust="spacingAndGlyphs" transform="translate(281.13,484.80) rotate(-90)">μg N/gDW</text>
<text x="424.90" y="537.52" font-size="5.9" text-anchor="end" font-weight="normal" font-family="Liberation Sans" stroke="#000" stroke-width="0.4">0</text>
<line x1="430.50" y1="514.30" x2="432.10" y2="514.30" stroke="#595959" stroke-width="0.7"/>
<text x="424.90" y="516.42" font-size="5.9" text-anchor="end" font-weight="normal" font-family="Liberation Sans" stroke="#000" stroke-width="0.4">0.01</text>
<line x1="430.50" y1="493.20" x2="432.10" y2="493.20" stroke="#595959" stroke-width="0.7"/>
<text x="424.90" y="495.32" font-size="5.9" text-anchor="end" font-weight="normal" font-family="Liberation Sans" stroke="#000" stroke-width="0.4">0.02</text>
<line x1="430.50" y1="472.10" x2="432.10" y2="472.10" stroke="#595959" stroke-width="0.7"/>
<text x="424.90" y="474.22" font-size="5.9" text-anchor="end" font-weight="normal" font-family="Liberation Sans" stroke="#000" stroke-width="0.4">0.03</text>
<line x1="430.50" y1="451.00" x2="432.10" y2="451.00" stroke="#595959" stroke-width="0.7"/>
<text x="424.90" y="453.12" font-size="5.9" text-anchor="end" font-weight="normal" font-family="Liberation Sans" stroke="#000" stroke-width="0.4">0.04</text>
<line x1="430.50" y1="429.90" x2="432.10" y2="429.90" stroke="#595959" stroke-width="0.7"/>
<text x="424.90" y="432.02" font-size="5.9" text-anchor="end" font-weight="normal" font-family="Liberation Sans" stroke="#000" stroke-width="0.4">0.05</text>
<rect x="435.10" y="531.30" width="5.00" height="4.10" fill="#4472C4"/>
<rect x="441.10" y="525.10" width="4.30" height="10.30" fill="#ED7D31"/>
<rect x="447.00" y="497.50" width="4.30" height="37.90" fill="#A5A5A5"/>
<rect x="452.30" y="492.20" width="5.00" height="43.20" fill="#FFC000"/>
<rect x="458.10" y="490.20" width="4.60" height="45.20" fill="#5B9BD5"/>
<rect x="464.00" y="499.30" width="4.40" height="36.10" fill="#70AD47"/>
<rect x="477.70" y="514.30" width="4.40" height="21.10" fill="#4472C4"/>
<rect x="483.60" y="530.00" width="4.40" height="5.40" fill="#ED7D31"/>
<rect x="489.20" y="531.00" width="4.40" height="4.40" fill="#A5A5A5"/>
<rect x="495.10" y="484.80" width="4.50" height="50.60" fill="#FFC000"/>
<rect x="500.50" y="511.80" width="4.50" height="23.60" fill="#5B9BD5"/>
<rect x="506.30" y="505.50" width="4.70" height="29.90" fill="#70AD47"/>
<line x1="437.60" y1="528.60" x2="437.60" y2="534.00" stroke="#6E6E6E" stroke-width="0.7"/>
<line x1="436.20" y1="528.60" x2="439.00" y2="528.60" stroke="#6E6E6E" stroke-width="0.7"/>
<line x1="436.20" y1="534.00" x2="439.00" y2="534.00" stroke="#6E6E6E" stroke-width="0.7"/>
<line x1="443.25" y1="521.70" x2="443.25" y2="528.50" stroke="#6E6E6E" stroke-width="0.7"/>
<line x1="441.85" y1="521.70" x2="444.65" y2="521.70" stroke="#6E6E6E" stroke-width="0.7"/>
<line x1="441.85" y1="528.50" x2="444.65" y2="528.50" stroke="#6E6E6E" stroke-width="0.7"/>
<line x1="449.15" y1="474.20" x2="449.15" y2="520.80" stroke="#6E6E6E" stroke-width="0.7"/>
<line x1="447.75" y1="474.20" x2="450.55" y2="474.20" stroke="#6E6E6E" stroke-width="0.7"/>
<line x1="447.75" y1="520.80" x2="450.55" y2="520.80" stroke="#6E6E6E" stroke-width="0.7"/>
<line x1="454.80" y1="474.20" x2="454.80" y2="510.20" stroke="#6E6E6E" stroke-width="0.7"/>
<line x1="453.40" y1="474.20" x2="456.20" y2="474.20" stroke="#6E6E6E" stroke-width="0.7"/>
<line x1="453.40" y1="510.20" x2="456.20" y2="510.20" stroke="#6E6E6E" stroke-width="0.7"/>
<line x1="460.40" y1="467.30" x2="460.40" y2="513.10" stroke="#6E6E6E" stroke-width="0.7"/>
<line x1="459.00" y1="467.30" x2="461.80" y2="467.30" stroke="#6E6E6E" stroke-width="0.7"/>
<line x1="459.00" y1="513.10" x2="461.80" y2="513.10" stroke="#6E6E6E" stroke-width="0.7"/>
<line x1="466.20" y1="491.80" x2="466.20" y2="506.80" stroke="#6E6E6E" stroke-width="0.7"/>
<line x1="464.80" y1="491.80" x2="467.60" y2="491.80" stroke="#6E6E6E" stroke-width="0.7"/>
<line x1="464.80" y1="506.80" x2="467.60" y2="506.80" stroke="#6E6E6E" stroke-width="0.7"/>
<line x1="479.90" y1="503.40" x2="479.90" y2="525.20" stroke="#6E6E6E" stroke-width="0.7"/>
<line x1="478.50" y1="503.40" x2="481.30" y2="503.40" stroke="#6E6E6E" stroke-width="0.7"/>
<line x1="478.50" y1="525.20" x2="481.30" y2="525.20" stroke="#6E6E6E" stroke-width="0.7"/>
<line x1="485.80" y1="528.30" x2="485.80" y2="531.70" stroke="#6E6E6E" stroke-width="0.7"/>
<line x1="484.40" y1="528.30" x2="487.20" y2="528.30" stroke="#6E6E6E" stroke-width="0.7"/>
<line x1="484.40" y1="531.70" x2="487.20" y2="531.70" stroke="#6E6E6E" stroke-width="0.7"/>
<line x1="491.40" y1="526.30" x2="491.40" y2="535.40" stroke="#6E6E6E" stroke-width="0.7"/>
<line x1="490.00" y1="526.30" x2="492.80" y2="526.30" stroke="#6E6E6E" stroke-width="0.7"/>
<line x1="490.00" y1="535.40" x2="492.80" y2="535.40" stroke="#6E6E6E" stroke-width="0.7"/>
<line x1="497.35" y1="460.10" x2="497.35" y2="509.50" stroke="#6E6E6E" stroke-width="0.7"/>
<line x1="495.95" y1="460.10" x2="498.75" y2="460.10" stroke="#6E6E6E" stroke-width="0.7"/>
<line x1="495.95" y1="509.50" x2="498.75" y2="509.50" stroke="#6E6E6E" stroke-width="0.7"/>
<line x1="502.75" y1="495.60" x2="502.75" y2="528.00" stroke="#6E6E6E" stroke-width="0.7"/>
<line x1="501.35" y1="495.60" x2="504.15" y2="495.60" stroke="#6E6E6E" stroke-width="0.7"/>
<line x1="501.35" y1="528.00" x2="504.15" y2="528.00" stroke="#6E6E6E" stroke-width="0.7"/>
<line x1="508.65" y1="489.40" x2="508.65" y2="521.60" stroke="#6E6E6E" stroke-width="0.7"/>
<line x1="507.25" y1="489.40" x2="510.05" y2="489.40" stroke="#6E6E6E" stroke-width="0.7"/>
<line x1="507.25" y1="521.60" x2="510.05" y2="521.60" stroke="#6E6E6E" stroke-width="0.7"/>
<rect x="430.50" y="430.40" width="85.10" height="105.00" fill="none" stroke="#555" stroke-width="1"/>
<text x="0" y="0" font-size="8.2" text-anchor="middle" font-weight="bold" font-family="Liberation Sans" stroke="#000" stroke-width="0.3" transform="translate(437.60,526.50) scale(0.86,1)">a</text>
<text x="0" y="0" font-size="8.2" text-anchor="middle" font-weight="bold" font-family="Liberation Sans" stroke="#000" stroke-width="0.3" transform="translate(443.30,519.60) scale(0.86,1)">a</text>
<text x="0" y="0" font-size="8.2" text-anchor="middle" font-weight="bold" font-family="Liberation Sans" stroke="#000" stroke-width="0.3" transform="translate(449.20,472.10) scale(0.86,1)">a</text>
<text x="0" y="0" font-size="8.2" text-anchor="middle" font-weight="bold" font-family="Liberation Sans" stroke="#000" stroke-width="0.3" transform="translate(454.80,472.10) scale(0.86,1)">a</text>
<text x="0" y="0" font-size="8.2" text-anchor="middle" font-weight="bold" font-family="Liberation Sans" stroke="#000" stroke-width="0.3" transform="translate(460.40,465.20) scale(0.86,1)">a</text>
<text x="0" y="0" font-size="8.2" text-anchor="middle" font-weight="bold" font-family="Liberation Sans" stroke="#000" stroke-width="0.3" transform="translate(466.20,490.40) scale(0.86,1)">a</text>
<text x="0" y="0" font-size="8.2" text-anchor="middle" font-weight="bold" font-family="Liberation Sans" stroke="#000" stroke-width="0.3" transform="translate(480.00,501.60) scale(0.86,1)">a</text>
<text x="0" y="0" font-size="8.2" text-anchor="middle" font-weight="bold" font-family="Liberation Sans" stroke="#000" stroke-width="0.3" transform="translate(485.80,525.90) scale(0.86,1)">a</text>
<text x="0" y="0" font-size="8.2" text-anchor="middle" font-weight="bold" font-family="Liberation Sans" stroke="#000" stroke-width="0.3" transform="translate(491.40,522.80) scale(0.86,1)">a</text>
<text x="0" y="0" font-size="8.2" text-anchor="middle" font-weight="bold" font-family="Liberation Sans" stroke="#000" stroke-width="0.3" transform="translate(497.40,458.40) scale(0.86,1)">a</text>
<text x="0" y="0" font-size="8.2" text-anchor="middle" font-weight="bold" font-family="Liberation Sans" stroke="#000" stroke-width="0.3" transform="translate(502.80,492.90) scale(0.86,1)">a</text>
<text x="0" y="0" font-size="8.2" text-anchor="middle" font-weight="bold" font-family="Liberation Sans" stroke="#000" stroke-width="0.3" transform="translate(508.60,487.40) scale(0.86,1)">a</text>
<text x="451.35" y="545.40" font-size="6" text-anchor="middle" font-weight="normal" font-family="Liberation Sans" textLength="13.10" lengthAdjust="spacingAndGlyphs" stroke="#000" stroke-width="0.4">Urea</text>
<text x="493.95" y="545.40" font-size="6" text-anchor="middle" font-weight="normal" font-family="Liberation Sans" textLength="25.50" lengthAdjust="spacingAndGlyphs" stroke="#000" stroke-width="0.4">Ammonia</text>
<text x="0" y="0" font-size="6.4" text-anchor="middle" font-weight="normal" font-family="Liberation Sans" stroke="#000" stroke-width="0.35" textLength="29.50" lengthAdjust="spacingAndGlyphs" transform="translate(411.10,483.20) rotate(-90)">μgN/gDW</text>
</svg></body></html>
